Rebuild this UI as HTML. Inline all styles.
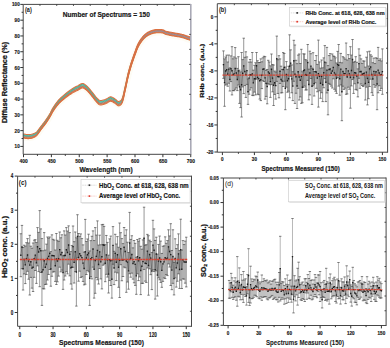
<!DOCTYPE html>
<html><head><meta charset="utf-8"><style>
html,body{margin:0;padding:0;background:#fff;}
body{width:390px;height:348px;overflow:hidden;}
svg{display:block;font-family:"Liberation Sans", sans-serif;}
</style></head><body>
<svg width="390" height="348" viewBox="0 0 390 348">
<rect width="390" height="348" fill="#fff"/>
<defs><linearGradient id="bg0" gradientUnits="userSpaceOnUse" x1="23" y1="0" x2="191" y2="0"><stop offset="0" stop-color="#dc7040"/><stop offset="0.56" stop-color="#dc7040"/><stop offset="0.66" stop-color="#dc7040"/><stop offset="1" stop-color="#dc7040"/></linearGradient><linearGradient id="bg1" gradientUnits="userSpaceOnUse" x1="23" y1="0" x2="191" y2="0"><stop offset="0" stop-color="#45b49c"/><stop offset="0.56" stop-color="#45b49c"/><stop offset="0.66" stop-color="#c77552"/><stop offset="1" stop-color="#c77552"/></linearGradient><linearGradient id="bg2" gradientUnits="userSpaceOnUse" x1="23" y1="0" x2="191" y2="0"><stop offset="0" stop-color="#48b59d"/><stop offset="0.56" stop-color="#48b59d"/><stop offset="0.66" stop-color="#918d98"/><stop offset="1" stop-color="#918d98"/></linearGradient><linearGradient id="bg3" gradientUnits="userSpaceOnUse" x1="23" y1="0" x2="191" y2="0"><stop offset="0" stop-color="#849c90"/><stop offset="0.56" stop-color="#849c90"/><stop offset="0.66" stop-color="#8f8d9a"/><stop offset="1" stop-color="#8f8d9a"/></linearGradient><linearGradient id="bg4" gradientUnits="userSpaceOnUse" x1="23" y1="0" x2="191" y2="0"><stop offset="0" stop-color="#a5806f"/><stop offset="0.56" stop-color="#a5806f"/><stop offset="0.66" stop-color="#958a97"/><stop offset="1" stop-color="#958a97"/></linearGradient><linearGradient id="bg5" gradientUnits="userSpaceOnUse" x1="23" y1="0" x2="191" y2="0"><stop offset="0" stop-color="#cf7048"/><stop offset="0.56" stop-color="#cf7048"/><stop offset="0.66" stop-color="#c97552"/><stop offset="1" stop-color="#c97552"/></linearGradient><linearGradient id="bg6" gradientUnits="userSpaceOnUse" x1="23" y1="0" x2="191" y2="0"><stop offset="0" stop-color="#dc6f3c"/><stop offset="0.56" stop-color="#dc6f3c"/><stop offset="0.66" stop-color="#dc6f3c"/><stop offset="1" stop-color="#dc6f3c"/></linearGradient><clipPath id="ca"><rect x="23.2" y="4.4" width="167.6" height="149.9"/></clipPath></defs>
<g clip-path="url(#ca)" fill="none" stroke-linejoin="round">
<path d="M22.5 137.5 C22.67 137.52 22.72 137.5 23.5 137.6 C24.28 137.7 26.02 138.03 27.2 138.1 C28.38 138.17 29.6 138.13 30.6 138 C31.6 137.87 32.18 137.77 33.2 137.3 C34.22 136.83 35.4 136.48 36.7 135.2 C38 133.92 39.43 131.65 41 129.6 C42.57 127.55 44.6 125.03 46.1 122.9 C47.6 120.77 48.82 118.8 50 116.8 C51.18 114.8 51.82 113.05 53.2 110.9 C54.58 108.75 56.58 105.88 58.3 103.9 C60.02 101.92 61.77 100.5 63.5 99 C65.23 97.5 66.97 96.15 68.7 94.9 C70.43 93.65 72.43 92.37 73.9 91.5 C75.37 90.63 76.1 90.4 77.5 89.7 C78.9 89 80.92 87.42 82.3 87.3 C83.68 87.18 84.65 88.17 85.8 89 C86.95 89.83 88.05 91.03 89.2 92.3 C90.35 93.57 91.55 95.17 92.7 96.6 C93.85 98.03 94.95 99.65 96.1 100.9 C97.25 102.15 98.45 103.6 99.6 104.1 C100.75 104.6 101.87 104.13 103 103.9 C104.13 103.67 105.12 103.25 106.4 102.7 C107.68 102.15 109.27 100.6 110.7 100.6 C112.13 100.6 113.68 101.93 115 102.7 C116.32 103.47 117.4 105.32 118.6 105.2 C119.8 105.08 121.12 104.45 122.2 102 C123.28 99.55 124.13 94.62 125.1 90.5 C126.07 86.38 127.02 81.3 128 77.3 C128.98 73.3 129.85 70.18 131 66.5 C132.15 62.82 133.68 58.52 134.9 55.2 C136.12 51.88 136.97 49.18 138.3 46.6 C139.63 44.02 141.37 41.52 142.9 39.7 C144.43 37.88 145.97 36.72 147.5 35.7 C149.03 34.68 150.57 34.1 152.1 33.6 C153.63 33.1 154.95 32.82 156.7 32.7 C158.45 32.58 160.98 32.6 162.6 32.9 C164.22 33.2 164.5 33.98 166.4 34.5 C168.3 35.02 171.47 35.52 174 36 C176.53 36.48 179.07 36.77 181.6 37.4 C184.13 38.03 187.47 39.28 189.2 39.8 C190.93 40.32 191.53 40.38 192 40.5" stroke="#f4f2cc" stroke-width="6" opacity="0.2"/>
<path d="M22.5 135.95 L22.54 135.95 L22.58 135.96 L22.62 135.96 L22.66 135.96 L22.71 135.96 L22.77 135.97 L22.84 135.98 L22.93 135.98 L23.04 136 L23.17 136.01 L23.32 136.03 L23.5 136.05 L23.71 136.08 L23.96 136.12 L24.24 136.16 L24.54 136.21 L24.87 136.26 L25.2 136.31 L25.54 136.36 L25.89 136.41 L26.23 136.46 L26.57 136.5 L26.89 136.53 L27.2 136.55 L27.5 136.57 L27.79 136.58 L28.09 136.58 L28.39 136.58 L28.68 136.58 L28.97 136.58 L29.26 136.57 L29.54 136.55 L29.81 136.53 L30.08 136.51 L30.35 136.48 L30.6 136.45 L30.84 136.42 L31.07 136.39 L31.29 136.35 L31.49 136.32 L31.69 136.27 L31.89 136.23 L32.09 136.17 L32.3 136.11 L32.51 136.04 L32.72 135.96 L32.95 135.86 L33.2 135.75 L33.46 135.64 L33.72 135.52 L33.99 135.41 L34.27 135.29 L34.55 135.15 L34.84 135.01 L35.14 134.85 L35.44 134.66 L35.75 134.46 L36.06 134.22 L36.38 133.96 L36.7 133.66 L37.03 133.31 L37.36 132.94 L37.7 132.53 L38.04 132.09 L38.39 131.63 L38.75 131.14 L39.11 130.65 L39.48 130.14 L39.85 129.62 L40.23 129.1 L40.61 128.58 L41 128.06 L41.4 127.54 L41.82 127 L42.25 126.45 L42.69 125.89 L43.13 125.32 L43.58 124.74 L44.02 124.16 L44.46 123.59 L44.89 123.02 L45.31 122.45 L45.71 121.9 L46.1 121.36 L46.47 120.83 L46.83 120.3 L47.18 119.79 L47.51 119.27 L47.85 118.76 L48.17 118.26 L48.49 117.75 L48.8 117.25 L49.1 116.75 L49.4 116.26 L49.7 115.76 L50 115.26 L50.29 114.76 L50.55 114.27 L50.8 113.79 L51.05 113.32 L51.29 112.84 L51.52 112.36 L51.77 111.88 L52.02 111.4 L52.28 110.9 L52.56 110.4 L52.87 109.89 L53.2 109.36 L53.56 108.8 L53.94 108.23 L54.34 107.63 L54.76 107.03 L55.19 106.41 L55.62 105.79 L56.07 105.18 L56.52 104.57 L56.97 103.98 L57.42 103.41 L57.87 102.87 L58.3 102.35 L58.73 101.87 L59.16 101.41 L59.59 100.96 L60.03 100.53 L60.46 100.12 L60.89 99.72 L61.33 99.33 L61.76 98.95 L62.2 98.57 L62.63 98.2 L63.07 97.83 L63.5 97.45 L63.93 97.08 L64.37 96.71 L64.8 96.35 L65.23 96 L65.67 95.65 L66.1 95.31 L66.53 94.97 L66.97 94.64 L67.4 94.31 L67.83 93.98 L68.27 93.66 L68.7 93.35 L69.14 93.04 L69.59 92.72 L70.04 92.41 L70.49 92.1 L70.95 91.8 L71.4 91.5 L71.85 91.22 L72.29 90.94 L72.71 90.67 L73.13 90.41 L73.52 90.17 L73.9 89.95 L74.25 89.74 L74.58 89.56 L74.88 89.4 L75.17 89.25 L75.45 89.11 L75.72 88.98 L76 88.86 L76.27 88.73 L76.55 88.6 L76.85 88.46 L77.16 88.31 L77.5 88.15 L77.86 87.95 L78.25 87.73 L78.65 87.49 L79.06 87.24 L79.48 86.98 L79.91 86.73 L80.33 86.49 L80.75 86.26 L81.16 86.07 L81.56 85.92 L81.94 85.8 L82.3 85.75 L82.64 85.74 L82.96 85.77 L83.27 85.85 L83.57 85.95 L83.86 86.08 L84.14 86.24 L84.41 86.42 L84.69 86.61 L84.96 86.81 L85.24 87.02 L85.52 87.24 L85.8 87.45 L86.09 87.66 L86.37 87.89 L86.65 88.14 L86.94 88.39 L87.22 88.66 L87.5 88.93 L87.78 89.22 L88.06 89.51 L88.35 89.81 L88.63 90.12 L88.91 90.43 L89.2 90.75 L89.49 91.07 L89.78 91.41 L90.07 91.75 L90.36 92.11 L90.66 92.47 L90.95 92.83 L91.24 93.2 L91.54 93.58 L91.83 93.95 L92.12 94.32 L92.41 94.69 L92.7 95.05 L92.99 95.41 L93.27 95.78 L93.55 96.15 L93.84 96.52 L94.12 96.89 L94.4 97.27 L94.68 97.63 L94.96 97.99 L95.25 98.35 L95.53 98.69 L95.81 99.03 L96.1 99.35 L96.39 99.66 L96.68 99.98 L96.97 100.3 L97.26 100.62 L97.56 100.93 L97.85 101.23 L98.14 101.51 L98.44 101.77 L98.73 102.01 L99.02 102.22 L99.31 102.4 L99.6 102.55 L99.89 102.65 L100.17 102.72 L100.46 102.76 L100.74 102.77 L101.02 102.76 L101.31 102.72 L101.59 102.67 L101.87 102.61 L102.15 102.55 L102.43 102.48 L102.72 102.41 L103 102.35 L103.28 102.28 L103.56 102.22 L103.83 102.14 L104.1 102.05 L104.37 101.96 L104.64 101.87 L104.92 101.76 L105.2 101.65 L105.49 101.53 L105.78 101.41 L106.09 101.28 L106.4 101.15 L106.73 100.99 L107.06 100.8 L107.41 100.59 L107.77 100.36 L108.13 100.12 L108.49 99.89 L108.86 99.67 L109.23 99.47 L109.6 99.3 L109.97 99.16 L110.34 99.08 L110.7 99.05 L111.06 99.07 L111.42 99.15 L111.79 99.27 L112.16 99.42 L112.53 99.6 L112.89 99.81 L113.26 100.03 L113.62 100.26 L113.97 100.5 L114.32 100.73 L114.67 100.94 L115 101.15 L115.32 101.36 L115.64 101.61 L115.95 101.88 L116.25 102.16 L116.55 102.45 L116.84 102.73 L117.14 102.99 L117.43 103.22 L117.72 103.41 L118.01 103.56 L118.3 103.64 L118.6 103.65 L118.9 103.61 L119.21 103.54 L119.52 103.44 L119.83 103.31 L120.14 103.14 L120.44 102.92 L120.75 102.66 L121.05 102.34 L121.35 101.96 L121.64 101.53 L121.92 101.02 L122.2 100.45 L122.47 99.79 L122.72 99.03 L122.97 98.2 L123.22 97.29 L123.46 96.33 L123.69 95.32 L123.93 94.28 L124.16 93.21 L124.39 92.14 L124.62 91.06 L124.86 89.99 L125.1 88.95 L125.34 87.9 L125.58 86.82 L125.82 85.71 L126.06 84.59 L126.3 83.45 L126.54 82.31 L126.78 81.17 L127.03 80.04 L127.27 78.92 L127.51 77.83 L127.75 76.77 L128 75.75 L128.24 74.77 L128.48 73.82 L128.72 72.9 L128.96 71.99 L129.2 71.11 L129.44 70.23 L129.68 69.37 L129.93 68.5 L130.18 67.63 L130.45 66.76 L130.72 65.86 L131 64.95 L131.3 64.02 L131.6 63.07 L131.92 62.1 L132.25 61.13 L132.59 60.15 L132.93 59.17 L133.26 58.2 L133.6 57.24 L133.94 56.3 L134.27 55.39 L134.59 54.51 L134.9 53.66 L135.2 52.84 L135.48 52.05 L135.76 51.28 L136.03 50.53 L136.29 49.8 L136.56 49.08 L136.82 48.38 L137.1 47.7 L137.38 47.03 L137.67 46.36 L137.98 45.71 L138.3 45.06 L138.64 44.42 L139 43.78 L139.37 43.15 L139.74 42.53 L140.13 41.92 L140.53 41.32 L140.92 40.74 L141.32 40.18 L141.72 39.64 L142.12 39.12 L142.51 38.63 L142.9 38.16 L143.28 37.72 L143.67 37.3 L144.05 36.91 L144.43 36.54 L144.82 36.19 L145.2 35.86 L145.58 35.55 L145.97 35.25 L146.35 34.96 L146.73 34.68 L147.12 34.42 L147.5 34.16 L147.88 33.92 L148.27 33.69 L148.65 33.47 L149.03 33.28 L149.42 33.09 L149.8 32.92 L150.18 32.75 L150.57 32.6 L150.95 32.46 L151.33 32.32 L151.72 32.19 L152.1 32.06 L152.48 31.94 L152.85 31.83 L153.22 31.73 L153.59 31.63 L153.95 31.55 L154.32 31.47 L154.69 31.4 L155.07 31.34 L155.46 31.28 L155.86 31.23 L156.27 31.19 L156.7 31.16 L157.15 31.13 L157.63 31.11 L158.13 31.1 L158.65 31.09 L159.17 31.1 L159.7 31.1 L160.22 31.12 L160.74 31.15 L161.24 31.19 L161.72 31.23 L162.18 31.29 L162.6 31.36 L162.98 31.45 L163.31 31.55 L163.61 31.66 L163.88 31.79 L164.14 31.93 L164.39 32.08 L164.65 32.23 L164.93 32.38 L165.23 32.54 L165.57 32.68 L165.96 32.83 L166.4 32.96 L166.9 33.09 L167.45 33.22 L168.03 33.35 L168.65 33.47 L169.3 33.6 L169.96 33.72 L170.64 33.85 L171.33 33.97 L172.01 34.1 L172.69 34.22 L173.35 34.34 L174 34.46 L174.63 34.58 L175.27 34.69 L175.9 34.79 L176.53 34.9 L177.17 35 L177.8 35.1 L178.43 35.21 L179.07 35.32 L179.7 35.44 L180.33 35.57 L180.97 35.71 L181.6 35.86 L182.25 36.03 L182.92 36.22 L183.61 36.43 L184.31 36.65 L185.01 36.88 L185.7 37.1 L186.37 37.33 L187.02 37.55 L187.64 37.76 L188.21 37.95 L188.73 38.12 L189.2 38.26 L189.61 38.38 L189.98 38.48 L190.3 38.57 L190.59 38.65 L190.85 38.71 L191.07 38.76 L191.27 38.81 L191.45 38.84 L191.61 38.88 L191.75 38.9 L191.88 38.93 L192 38.96" stroke="url(#bg3)" stroke-width="1.05"/>
<path d="M22.5 135.26 L22.54 135.26 L22.58 135.26 L22.62 135.27 L22.66 135.27 L22.71 135.27 L22.77 135.28 L22.84 135.28 L22.93 135.29 L23.04 135.3 L23.17 135.32 L23.32 135.34 L23.5 135.36 L23.71 135.39 L23.96 135.43 L24.24 135.47 L24.54 135.52 L24.87 135.57 L25.2 135.63 L25.54 135.68 L25.89 135.73 L26.23 135.77 L26.57 135.81 L26.89 135.85 L27.2 135.87 L27.5 135.88 L27.79 135.9 L28.09 135.9 L28.39 135.91 L28.68 135.9 L28.97 135.9 L29.26 135.89 L29.54 135.88 L29.81 135.86 L30.08 135.84 L30.35 135.81 L30.6 135.78 L30.84 135.75 L31.07 135.71 L31.29 135.68 L31.49 135.64 L31.69 135.6 L31.89 135.56 L32.09 135.5 L32.3 135.44 L32.51 135.37 L32.72 135.29 L32.95 135.19 L33.2 135.09 L33.46 134.97 L33.72 134.86 L33.99 134.74 L34.27 134.62 L34.55 134.5 L34.84 134.36 L35.14 134.2 L35.44 134.02 L35.75 133.82 L36.06 133.59 L36.38 133.32 L36.7 133.03 L37.03 132.69 L37.36 132.32 L37.7 131.91 L38.04 131.48 L38.39 131.02 L38.75 130.54 L39.11 130.05 L39.48 129.54 L39.85 129.03 L40.23 128.51 L40.61 128 L41 127.49 L41.4 126.97 L41.82 126.44 L42.25 125.89 L42.69 125.32 L43.13 124.75 L43.58 124.17 L44.02 123.59 L44.46 123.02 L44.89 122.44 L45.31 121.88 L45.71 121.32 L46.1 120.78 L46.47 120.24 L46.83 119.72 L47.18 119.2 L47.51 118.68 L47.85 118.17 L48.17 117.67 L48.49 117.16 L48.8 116.66 L49.1 116.16 L49.4 115.66 L49.7 115.16 L50 114.66 L50.29 114.16 L50.55 113.67 L50.8 113.19 L51.05 112.71 L51.29 112.23 L51.52 111.75 L51.77 111.27 L52.02 110.78 L52.28 110.29 L52.56 109.79 L52.87 109.27 L53.2 108.74 L53.56 108.18 L53.94 107.61 L54.34 107.01 L54.76 106.4 L55.19 105.78 L55.62 105.16 L56.07 104.54 L56.52 103.94 L56.97 103.34 L57.42 102.77 L57.87 102.22 L58.3 101.71 L58.73 101.22 L59.16 100.76 L59.59 100.31 L60.03 99.88 L60.46 99.47 L60.89 99.06 L61.33 98.67 L61.76 98.29 L62.2 97.91 L62.63 97.53 L63.07 97.15 L63.5 96.78 L63.93 96.4 L64.37 96.03 L64.8 95.67 L65.23 95.31 L65.67 94.96 L66.1 94.61 L66.53 94.27 L66.97 93.94 L67.4 93.6 L67.83 93.28 L68.27 92.96 L68.7 92.64 L69.14 92.32 L69.59 92 L70.04 91.69 L70.49 91.38 L70.95 91.07 L71.4 90.77 L71.85 90.48 L72.29 90.2 L72.71 89.93 L73.13 89.67 L73.52 89.43 L73.9 89.2 L74.25 88.99 L74.58 88.81 L74.88 88.64 L75.17 88.49 L75.45 88.36 L75.72 88.23 L76 88.1 L76.27 87.98 L76.55 87.85 L76.85 87.71 L77.16 87.56 L77.5 87.39 L77.86 87.2 L78.25 86.98 L78.65 86.74 L79.06 86.48 L79.48 86.23 L79.91 85.97 L80.33 85.73 L80.75 85.51 L81.16 85.32 L81.56 85.16 L81.94 85.05 L82.3 84.99 L82.64 84.99 L82.96 85.02 L83.27 85.09 L83.57 85.2 L83.86 85.33 L84.14 85.49 L84.41 85.66 L84.69 85.86 L84.96 86.06 L85.24 86.27 L85.52 86.48 L85.8 86.69 L86.09 86.91 L86.37 87.14 L86.65 87.38 L86.94 87.64 L87.22 87.91 L87.5 88.18 L87.78 88.47 L88.06 88.76 L88.35 89.06 L88.63 89.37 L88.91 89.68 L89.2 90 L89.49 90.32 L89.78 90.66 L90.07 91 L90.36 91.36 L90.66 91.72 L90.95 92.08 L91.24 92.46 L91.54 92.83 L91.83 93.2 L92.12 93.57 L92.41 93.94 L92.7 94.3 L92.99 94.66 L93.27 95.03 L93.55 95.4 L93.84 95.77 L94.12 96.15 L94.4 96.52 L94.68 96.89 L94.96 97.25 L95.25 97.6 L95.53 97.95 L95.81 98.28 L96.1 98.6 L96.39 98.92 L96.68 99.24 L96.97 99.56 L97.26 99.87 L97.56 100.18 L97.85 100.48 L98.14 100.76 L98.44 101.03 L98.73 101.27 L99.02 101.48 L99.31 101.66 L99.6 101.8 L99.89 101.91 L100.17 101.98 L100.46 102.01 L100.74 102.02 L101.02 102.01 L101.31 101.98 L101.59 101.93 L101.87 101.87 L102.15 101.8 L102.43 101.73 L102.72 101.66 L103 101.6 L103.28 101.54 L103.56 101.47 L103.83 101.39 L104.1 101.31 L104.37 101.22 L104.64 101.12 L104.92 101.02 L105.2 100.91 L105.49 100.79 L105.78 100.67 L106.09 100.54 L106.4 100.4 L106.73 100.25 L107.06 100.06 L107.41 99.84 L107.77 99.62 L108.13 99.38 L108.49 99.15 L108.86 98.93 L109.23 98.73 L109.6 98.56 L109.97 98.42 L110.34 98.34 L110.7 98.31 L111.06 98.33 L111.42 98.41 L111.79 98.53 L112.16 98.68 L112.53 98.86 L112.89 99.07 L113.26 99.29 L113.62 99.52 L113.97 99.76 L114.32 99.99 L114.67 100.21 L115 100.41 L115.32 100.62 L115.64 100.87 L115.95 101.14 L116.25 101.42 L116.55 101.71 L116.84 101.99 L117.14 102.25 L117.43 102.48 L117.72 102.68 L118.01 102.82 L118.3 102.9 L118.6 102.91 L118.9 102.87 L119.21 102.8 L119.52 102.71 L119.83 102.57 L120.14 102.4 L120.44 102.19 L120.75 101.92 L121.05 101.6 L121.35 101.23 L121.64 100.79 L121.92 100.29 L122.2 99.71 L122.47 99.05 L122.72 98.29 L122.97 97.46 L123.22 96.56 L123.46 95.59 L123.69 94.59 L123.93 93.54 L124.16 92.48 L124.39 91.4 L124.62 90.32 L124.86 89.26 L125.1 88.21 L125.34 87.17 L125.58 86.09 L125.82 84.99 L126.06 83.87 L126.3 82.74 L126.54 81.6 L126.78 80.46 L127.03 79.34 L127.27 78.23 L127.51 77.14 L127.75 76.09 L128 75.07 L128.24 74.09 L128.48 73.14 L128.72 72.23 L128.96 71.33 L129.2 70.45 L129.44 69.58 L129.68 68.71 L129.93 67.85 L130.18 66.99 L130.45 66.12 L130.72 65.23 L131 64.33 L131.3 63.4 L131.6 62.45 L131.92 61.49 L132.25 60.52 L132.59 59.55 L132.93 58.57 L133.26 57.61 L133.6 56.65 L133.94 55.71 L134.27 54.8 L134.59 53.92 L134.9 53.07 L135.2 52.26 L135.48 51.46 L135.76 50.69 L136.03 49.95 L136.29 49.22 L136.56 48.5 L136.82 47.81 L137.1 47.12 L137.38 46.45 L137.67 45.79 L137.98 45.13 L138.3 44.49 L138.64 43.84 L139 43.21 L139.37 42.58 L139.74 41.96 L140.13 41.35 L140.53 40.76 L140.92 40.18 L141.32 39.62 L141.72 39.08 L142.12 38.56 L142.51 38.07 L142.9 37.61 L143.28 37.17 L143.67 36.75 L144.05 36.36 L144.43 35.99 L144.82 35.65 L145.2 35.32 L145.58 35 L145.97 34.7 L146.35 34.41 L146.73 34.14 L147.12 33.87 L147.5 33.62 L147.88 33.37 L148.27 33.14 L148.65 32.93 L149.03 32.73 L149.42 32.54 L149.8 32.37 L150.18 32.21 L150.57 32.06 L150.95 31.91 L151.33 31.77 L151.72 31.64 L152.1 31.52 L152.48 31.39 L152.85 31.28 L153.22 31.18 L153.59 31.09 L153.95 31 L154.32 30.92 L154.69 30.85 L155.07 30.79 L155.46 30.73 L155.86 30.69 L156.27 30.65 L156.7 30.61 L157.15 30.59 L157.63 30.57 L158.13 30.55 L158.65 30.55 L159.17 30.55 L159.7 30.56 L160.22 30.58 L160.74 30.6 L161.24 30.64 L161.72 30.69 L162.18 30.75 L162.6 30.81 L162.98 30.9 L163.31 31 L163.61 31.12 L163.88 31.25 L164.14 31.39 L164.39 31.53 L164.65 31.68 L164.93 31.84 L165.23 31.99 L165.57 32.14 L165.96 32.28 L166.4 32.41 L166.9 32.54 L167.45 32.67 L168.03 32.8 L168.65 32.93 L169.3 33.05 L169.96 33.18 L170.64 33.3 L171.33 33.43 L172.01 33.55 L172.69 33.67 L173.35 33.79 L174 33.91 L174.63 34.03 L175.27 34.14 L175.9 34.25 L176.53 34.35 L177.17 34.45 L177.8 34.56 L178.43 34.67 L179.07 34.78 L179.7 34.9 L180.33 35.02 L180.97 35.16 L181.6 35.31 L182.25 35.49 L182.92 35.68 L183.61 35.88 L184.31 36.1 L185.01 36.33 L185.7 36.56 L186.37 36.78 L187.02 37 L187.64 37.21 L188.21 37.4 L188.73 37.57 L189.2 37.71 L189.61 37.84 L189.98 37.94 L190.3 38.03 L190.59 38.1 L190.85 38.16 L191.07 38.21 L191.27 38.26 L191.45 38.3 L191.61 38.33 L191.75 38.36 L191.88 38.39 L192 38.41" stroke="url(#bg2)" stroke-width="1.05"/>
<path d="M22.5 136.64 L22.54 136.65 L22.58 136.65 L22.62 136.65 L22.66 136.65 L22.71 136.66 L22.77 136.66 L22.84 136.67 L22.93 136.68 L23.04 136.69 L23.17 136.7 L23.32 136.72 L23.5 136.74 L23.71 136.77 L23.96 136.81 L24.24 136.85 L24.54 136.9 L24.87 136.95 L25.2 137 L25.54 137.05 L25.89 137.1 L26.23 137.14 L26.57 137.18 L26.89 137.21 L27.2 137.23 L27.5 137.25 L27.79 137.26 L28.09 137.26 L28.39 137.26 L28.68 137.26 L28.97 137.25 L29.26 137.24 L29.54 137.23 L29.81 137.21 L30.08 137.18 L30.35 137.16 L30.6 137.13 L30.84 137.09 L31.07 137.06 L31.29 137.02 L31.49 136.99 L31.69 136.94 L31.89 136.9 L32.09 136.84 L32.3 136.78 L32.51 136.71 L32.72 136.63 L32.95 136.53 L33.2 136.42 L33.46 136.3 L33.72 136.19 L33.99 136.07 L34.27 135.95 L34.55 135.81 L34.84 135.66 L35.14 135.5 L35.44 135.31 L35.75 135.1 L36.06 134.86 L36.38 134.59 L36.7 134.28 L37.03 133.94 L37.36 133.56 L37.7 133.14 L38.04 132.7 L38.39 132.23 L38.75 131.75 L39.11 131.24 L39.48 130.73 L39.85 130.21 L40.23 129.68 L40.61 129.15 L41 128.63 L41.4 128.11 L41.82 127.56 L42.25 127.01 L42.69 126.45 L43.13 125.88 L43.58 125.31 L44.02 124.73 L44.46 124.16 L44.89 123.59 L45.31 123.03 L45.71 122.48 L46.1 121.94 L46.47 121.41 L46.83 120.89 L47.18 120.37 L47.51 119.86 L47.85 119.35 L48.17 118.85 L48.49 118.35 L48.8 117.85 L49.1 117.35 L49.4 116.85 L49.7 116.36 L50 115.86 L50.29 115.37 L50.55 114.88 L50.8 114.4 L51.05 113.92 L51.29 113.45 L51.52 112.97 L51.77 112.49 L52.02 112.01 L52.28 111.52 L52.56 111.02 L52.87 110.5 L53.2 109.97 L53.56 109.42 L53.94 108.85 L54.34 108.26 L54.76 107.65 L55.19 107.04 L55.62 106.42 L56.07 105.81 L56.52 105.21 L56.97 104.62 L57.42 104.05 L57.87 103.51 L58.3 103 L58.73 102.52 L59.16 102.06 L59.59 101.61 L60.03 101.19 L60.46 100.78 L60.89 100.38 L61.33 99.99 L61.76 99.61 L62.2 99.24 L62.63 98.87 L63.07 98.5 L63.5 98.13 L63.93 97.76 L64.37 97.4 L64.8 97.04 L65.23 96.69 L65.67 96.34 L66.1 96 L66.53 95.67 L66.97 95.33 L67.4 95.01 L67.83 94.69 L68.27 94.37 L68.7 94.06 L69.14 93.75 L69.59 93.44 L70.04 93.13 L70.49 92.83 L70.95 92.53 L71.4 92.23 L71.85 91.95 L72.29 91.67 L72.71 91.41 L73.13 91.16 L73.52 90.92 L73.9 90.69 L74.25 90.49 L74.58 90.31 L74.88 90.15 L75.17 90.01 L75.45 89.87 L75.72 89.74 L76 89.61 L76.27 89.49 L76.55 89.36 L76.85 89.22 L77.16 89.07 L77.5 88.9 L77.86 88.71 L78.25 88.49 L78.65 88.25 L79.06 87.99 L79.48 87.74 L79.91 87.48 L80.33 87.24 L80.75 87.02 L81.16 86.83 L81.56 86.67 L81.94 86.56 L82.3 86.5 L82.64 86.49 L82.96 86.53 L83.27 86.6 L83.57 86.7 L83.86 86.84 L84.14 86.99 L84.41 87.17 L84.69 87.36 L84.96 87.56 L85.24 87.77 L85.52 87.99 L85.8 88.2 L86.09 88.41 L86.37 88.64 L86.65 88.89 L86.94 89.14 L87.22 89.41 L87.5 89.68 L87.78 89.97 L88.06 90.26 L88.35 90.56 L88.63 90.87 L88.91 91.18 L89.2 91.5 L89.49 91.82 L89.78 92.16 L90.07 92.5 L90.36 92.86 L90.66 93.22 L90.95 93.58 L91.24 93.95 L91.54 94.33 L91.83 94.7 L92.12 95.07 L92.41 95.43 L92.7 95.8 L92.99 96.16 L93.27 96.52 L93.55 96.9 L93.84 97.27 L94.12 97.64 L94.4 98.01 L94.68 98.38 L94.96 98.74 L95.25 99.1 L95.53 99.44 L95.81 99.77 L96.1 100.09 L96.39 100.41 L96.68 100.73 L96.97 101.05 L97.26 101.37 L97.56 101.68 L97.85 101.97 L98.14 102.26 L98.44 102.52 L98.73 102.76 L99.02 102.97 L99.31 103.15 L99.6 103.29 L99.89 103.4 L100.17 103.47 L100.46 103.5 L100.74 103.51 L101.02 103.5 L101.31 103.47 L101.59 103.42 L101.87 103.36 L102.15 103.29 L102.43 103.22 L102.72 103.15 L103 103.09 L103.28 103.03 L103.56 102.96 L103.83 102.88 L104.1 102.8 L104.37 102.71 L104.64 102.61 L104.92 102.5 L105.2 102.39 L105.49 102.28 L105.78 102.15 L106.09 102.02 L106.4 101.89 L106.73 101.73 L107.06 101.54 L107.41 101.33 L107.77 101.1 L108.13 100.87 L108.49 100.63 L108.86 100.41 L109.23 100.21 L109.6 100.04 L109.97 99.91 L110.34 99.82 L110.7 99.79 L111.06 99.81 L111.42 99.89 L111.79 100.01 L112.16 100.16 L112.53 100.34 L112.89 100.55 L113.26 100.77 L113.62 101 L113.97 101.24 L114.32 101.46 L114.67 101.68 L115 101.89 L115.32 102.1 L115.64 102.35 L115.95 102.62 L116.25 102.9 L116.55 103.19 L116.84 103.47 L117.14 103.73 L117.43 103.96 L117.72 104.15 L118.01 104.29 L118.3 104.38 L118.6 104.38 L118.9 104.34 L119.21 104.28 L119.52 104.18 L119.83 104.05 L120.14 103.88 L120.44 103.66 L120.75 103.39 L121.05 103.08 L121.35 102.7 L121.64 102.26 L121.92 101.76 L122.2 101.18 L122.47 100.52 L122.72 99.77 L122.97 98.93 L123.22 98.03 L123.46 97.07 L123.69 96.06 L123.93 95.02 L124.16 93.95 L124.39 92.87 L124.62 91.79 L124.86 90.73 L125.1 89.68 L125.34 88.63 L125.58 87.54 L125.82 86.43 L126.06 85.3 L126.3 84.16 L126.54 83.01 L126.78 81.87 L127.03 80.73 L127.27 79.62 L127.51 78.52 L127.75 77.46 L128 76.43 L128.24 75.45 L128.48 74.49 L128.72 73.56 L128.96 72.66 L129.2 71.77 L129.44 70.89 L129.68 70.02 L129.93 69.15 L130.18 68.28 L130.45 67.4 L130.72 66.5 L131 65.58 L131.3 64.65 L131.6 63.69 L131.92 62.72 L132.25 61.74 L132.59 60.75 L132.93 59.77 L133.26 58.79 L133.6 57.84 L133.94 56.9 L134.27 55.98 L134.59 55.1 L134.9 54.25 L135.2 53.43 L135.48 52.63 L135.76 51.86 L136.03 51.11 L136.29 50.38 L136.56 49.66 L136.82 48.96 L137.1 48.28 L137.38 47.6 L137.67 46.94 L137.98 46.28 L138.3 45.63 L138.64 44.99 L139 44.35 L139.37 43.72 L139.74 43.09 L140.13 42.48 L140.53 41.89 L140.92 41.31 L141.32 40.74 L141.72 40.2 L142.12 39.68 L142.51 39.18 L142.9 38.71 L143.28 38.27 L143.67 37.86 L144.05 37.46 L144.43 37.09 L144.82 36.74 L145.2 36.41 L145.58 36.09 L145.97 35.79 L146.35 35.51 L146.73 35.23 L147.12 34.96 L147.5 34.71 L147.88 34.46 L148.27 34.23 L148.65 34.02 L149.03 33.82 L149.42 33.64 L149.8 33.46 L150.18 33.3 L150.57 33.15 L150.95 33 L151.33 32.87 L151.72 32.73 L152.1 32.61 L152.48 32.49 L152.85 32.37 L153.22 32.27 L153.59 32.18 L153.95 32.09 L154.32 32.01 L154.69 31.94 L155.07 31.88 L155.46 31.83 L155.86 31.78 L156.27 31.74 L156.7 31.71 L157.15 31.68 L157.63 31.66 L158.13 31.65 L158.65 31.64 L159.17 31.64 L159.7 31.65 L160.22 31.67 L160.74 31.7 L161.24 31.73 L161.72 31.78 L162.18 31.84 L162.6 31.91 L162.98 31.99 L163.31 32.09 L163.61 32.21 L163.88 32.34 L164.14 32.48 L164.39 32.63 L164.65 32.78 L164.93 32.93 L165.23 33.08 L165.57 33.23 L165.96 33.37 L166.4 33.51 L166.9 33.64 L167.45 33.76 L168.03 33.89 L168.65 34.02 L169.3 34.14 L169.96 34.27 L170.64 34.39 L171.33 34.52 L172.01 34.64 L172.69 34.76 L173.35 34.89 L174 35.01 L174.63 35.12 L175.27 35.23 L175.9 35.34 L176.53 35.44 L177.17 35.55 L177.8 35.65 L178.43 35.76 L179.07 35.87 L179.7 35.99 L180.33 36.12 L180.97 36.26 L181.6 36.41 L182.25 36.58 L182.92 36.77 L183.61 36.98 L184.31 37.2 L185.01 37.42 L185.7 37.65 L186.37 37.88 L187.02 38.1 L187.64 38.3 L188.21 38.49 L188.73 38.66 L189.2 38.81 L189.61 38.93 L189.98 39.03 L190.3 39.12 L190.59 39.19 L190.85 39.25 L191.07 39.31 L191.27 39.35 L191.45 39.39 L191.61 39.42 L191.75 39.45 L191.88 39.48 L192 39.51" stroke="url(#bg4)" stroke-width="1.05"/>
<path d="M22.5 134.56 L22.54 134.57 L22.58 134.57 L22.62 134.57 L22.66 134.57 L22.71 134.58 L22.77 134.58 L22.84 134.59 L22.93 134.6 L23.04 134.61 L23.17 134.63 L23.32 134.64 L23.5 134.67 L23.71 134.7 L23.96 134.74 L24.24 134.78 L24.54 134.83 L24.87 134.89 L25.2 134.94 L25.54 134.99 L25.89 135.04 L26.23 135.09 L26.57 135.13 L26.89 135.16 L27.2 135.19 L27.5 135.2 L27.79 135.22 L28.09 135.22 L28.39 135.23 L28.68 135.23 L28.97 135.22 L29.26 135.21 L29.54 135.2 L29.81 135.18 L30.08 135.16 L30.35 135.13 L30.6 135.1 L30.84 135.07 L31.07 135.04 L31.29 135.01 L31.49 134.97 L31.69 134.93 L31.89 134.89 L32.09 134.83 L32.3 134.77 L32.51 134.7 L32.72 134.62 L32.95 134.53 L33.2 134.42 L33.46 134.3 L33.72 134.19 L33.99 134.08 L34.27 133.96 L34.55 133.84 L34.84 133.7 L35.14 133.55 L35.44 133.37 L35.75 133.17 L36.06 132.95 L36.38 132.69 L36.7 132.4 L37.03 132.06 L37.36 131.7 L37.7 131.29 L38.04 130.87 L38.39 130.41 L38.75 129.94 L39.11 129.45 L39.48 128.95 L39.85 128.44 L40.23 127.93 L40.61 127.42 L41 126.91 L41.4 126.4 L41.82 125.88 L42.25 125.33 L42.69 124.76 L43.13 124.18 L43.58 123.6 L44.02 123.02 L44.46 122.44 L44.89 121.87 L45.31 121.3 L45.71 120.74 L46.1 120.2 L46.47 119.66 L46.83 119.13 L47.18 118.61 L47.51 118.09 L47.85 117.58 L48.17 117.07 L48.49 116.57 L48.8 116.06 L49.1 115.56 L49.4 115.06 L49.7 114.56 L50 114.05 L50.29 113.55 L50.55 113.06 L50.8 112.58 L51.05 112.1 L51.29 111.62 L51.52 111.14 L51.77 110.66 L52.02 110.17 L52.28 109.68 L52.56 109.17 L52.87 108.65 L53.2 108.12 L53.56 107.56 L53.94 106.98 L54.34 106.38 L54.76 105.77 L55.19 105.15 L55.62 104.53 L56.07 103.91 L56.52 103.3 L56.97 102.71 L57.42 102.13 L57.87 101.58 L58.3 101.06 L58.73 100.57 L59.16 100.11 L59.59 99.66 L60.03 99.23 L60.46 98.81 L60.89 98.4 L61.33 98.01 L61.76 97.62 L62.2 97.24 L62.63 96.86 L63.07 96.48 L63.5 96.1 L63.93 95.72 L64.37 95.35 L64.8 94.98 L65.23 94.62 L65.67 94.27 L66.1 93.92 L66.53 93.57 L66.97 93.24 L67.4 92.9 L67.83 92.57 L68.27 92.25 L68.7 91.93 L69.14 91.61 L69.59 91.29 L70.04 90.97 L70.49 90.65 L70.95 90.35 L71.4 90.04 L71.85 89.75 L72.29 89.46 L72.71 89.19 L73.13 88.93 L73.52 88.68 L73.9 88.45 L74.25 88.24 L74.58 88.05 L74.88 87.89 L75.17 87.74 L75.45 87.6 L75.72 87.47 L76 87.35 L76.27 87.22 L76.55 87.09 L76.85 86.95 L77.16 86.8 L77.5 86.64 L77.86 86.44 L78.25 86.22 L78.65 85.98 L79.06 85.73 L79.48 85.47 L79.91 85.22 L80.33 84.98 L80.75 84.76 L81.16 84.57 L81.56 84.41 L81.94 84.3 L82.3 84.24 L82.64 84.23 L82.96 84.27 L83.27 84.34 L83.57 84.45 L83.86 84.58 L84.14 84.74 L84.41 84.91 L84.69 85.11 L84.96 85.31 L85.24 85.52 L85.52 85.73 L85.8 85.94 L86.09 86.16 L86.37 86.39 L86.65 86.63 L86.94 86.89 L87.22 87.16 L87.5 87.43 L87.78 87.72 L88.06 88.01 L88.35 88.31 L88.63 88.62 L88.91 88.93 L89.2 89.25 L89.49 89.57 L89.78 89.91 L90.07 90.25 L90.36 90.61 L90.66 90.97 L90.95 91.34 L91.24 91.71 L91.54 92.08 L91.83 92.45 L92.12 92.82 L92.41 93.19 L92.7 93.55 L92.99 93.91 L93.27 94.28 L93.55 94.65 L93.84 95.02 L94.12 95.4 L94.4 95.77 L94.68 96.14 L94.96 96.5 L95.25 96.85 L95.53 97.2 L95.81 97.53 L96.1 97.85 L96.39 98.17 L96.68 98.49 L96.97 98.81 L97.26 99.13 L97.56 99.44 L97.85 99.74 L98.14 100.02 L98.44 100.28 L98.73 100.52 L99.02 100.73 L99.31 100.91 L99.6 101.06 L99.89 101.16 L100.17 101.23 L100.46 101.27 L100.74 101.28 L101.02 101.26 L101.31 101.23 L101.59 101.18 L101.87 101.12 L102.15 101.06 L102.43 100.99 L102.72 100.92 L103 100.86 L103.28 100.8 L103.56 100.73 L103.83 100.65 L104.1 100.57 L104.37 100.48 L104.64 100.38 L104.92 100.27 L105.2 100.16 L105.49 100.05 L105.78 99.92 L106.09 99.8 L106.4 99.66 L106.73 99.5 L107.06 99.32 L107.41 99.1 L107.77 98.87 L108.13 98.64 L108.49 98.41 L108.86 98.19 L109.23 97.99 L109.6 97.81 L109.97 97.68 L110.34 97.6 L110.7 97.57 L111.06 97.59 L111.42 97.67 L111.79 97.79 L112.16 97.94 L112.53 98.12 L112.89 98.33 L113.26 98.55 L113.62 98.78 L113.97 99.02 L114.32 99.25 L114.67 99.47 L115 99.67 L115.32 99.88 L115.64 100.13 L115.95 100.4 L116.25 100.68 L116.55 100.97 L116.84 101.25 L117.14 101.51 L117.43 101.74 L117.72 101.94 L118.01 102.08 L118.3 102.16 L118.6 102.17 L118.9 102.13 L119.21 102.07 L119.52 101.97 L119.83 101.84 L120.14 101.66 L120.44 101.45 L120.75 101.18 L121.05 100.87 L121.35 100.49 L121.64 100.05 L121.92 99.55 L122.2 98.98 L122.47 98.31 L122.72 97.56 L122.97 96.72 L123.22 95.82 L123.46 94.86 L123.69 93.85 L123.93 92.81 L124.16 91.74 L124.39 90.67 L124.62 89.59 L124.86 88.52 L125.1 87.48 L125.34 86.44 L125.58 85.37 L125.82 84.27 L126.06 83.15 L126.3 82.02 L126.54 80.89 L126.78 79.76 L127.03 78.64 L127.27 77.53 L127.51 76.45 L127.75 75.4 L128 74.39 L128.24 73.41 L128.48 72.47 L128.72 71.56 L128.96 70.66 L129.2 69.78 L129.44 68.92 L129.68 68.06 L129.93 67.2 L130.18 66.34 L130.45 65.48 L130.72 64.59 L131 63.7 L131.3 62.77 L131.6 61.83 L131.92 60.88 L132.25 59.91 L132.59 58.94 L132.93 57.98 L133.26 57.01 L133.6 56.06 L133.94 55.12 L134.27 54.21 L134.59 53.33 L134.9 52.48 L135.2 51.67 L135.48 50.88 L135.76 50.11 L136.03 49.36 L136.29 48.63 L136.56 47.92 L136.82 47.23 L137.1 46.54 L137.38 45.87 L137.67 45.21 L137.98 44.56 L138.3 43.91 L138.64 43.27 L139 42.64 L139.37 42.01 L139.74 41.39 L140.13 40.79 L140.53 40.19 L140.92 39.62 L141.32 39.06 L141.72 38.52 L142.12 38.01 L142.51 37.52 L142.9 37.05 L143.28 36.61 L143.67 36.2 L144.05 35.81 L144.43 35.45 L144.82 35.1 L145.2 34.77 L145.58 34.45 L145.97 34.15 L146.35 33.87 L146.73 33.59 L147.12 33.33 L147.5 33.07 L147.88 32.82 L148.27 32.6 L148.65 32.38 L149.03 32.18 L149.42 32 L149.8 31.83 L150.18 31.66 L150.57 31.51 L150.95 31.37 L151.33 31.23 L151.72 31.1 L152.1 30.97 L152.48 30.85 L152.85 30.74 L153.22 30.63 L153.59 30.54 L153.95 30.45 L154.32 30.38 L154.69 30.31 L155.07 30.24 L155.46 30.19 L155.86 30.14 L156.27 30.1 L156.7 30.07 L157.15 30.04 L157.63 30.02 L158.13 30.01 L158.65 30 L159.17 30 L159.7 30.01 L160.22 30.03 L160.74 30.06 L161.24 30.09 L161.72 30.14 L162.18 30.2 L162.6 30.27 L162.98 30.35 L163.31 30.46 L163.61 30.57 L163.88 30.7 L164.14 30.84 L164.39 30.99 L164.65 31.14 L164.93 31.29 L165.23 31.44 L165.57 31.59 L165.96 31.73 L166.4 31.87 L166.9 32 L167.45 32.13 L168.03 32.25 L168.65 32.38 L169.3 32.51 L169.96 32.63 L170.64 32.76 L171.33 32.88 L172.01 33 L172.69 33.13 L173.35 33.25 L174 33.37 L174.63 33.49 L175.27 33.6 L175.9 33.7 L176.53 33.81 L177.17 33.91 L177.8 34.01 L178.43 34.12 L179.07 34.23 L179.7 34.35 L180.33 34.48 L180.97 34.62 L181.6 34.77 L182.25 34.94 L182.92 35.13 L183.61 35.34 L184.31 35.56 L185.01 35.78 L185.7 36.01 L186.37 36.24 L187.02 36.46 L187.64 36.67 L188.21 36.86 L188.73 37.03 L189.2 37.17 L189.61 37.29 L189.98 37.39 L190.3 37.48 L190.59 37.55 L190.85 37.62 L191.07 37.67 L191.27 37.71 L191.45 37.75 L191.61 37.78 L191.75 37.81 L191.88 37.84 L192 37.87" stroke="url(#bg1)" stroke-width="1.05"/>
<path d="M22.5 137.34 L22.54 137.34 L22.58 137.34 L22.62 137.35 L22.66 137.35 L22.71 137.35 L22.77 137.36 L22.84 137.36 L22.93 137.37 L23.04 137.38 L23.17 137.39 L23.32 137.41 L23.5 137.43 L23.71 137.46 L23.96 137.5 L24.24 137.54 L24.54 137.59 L24.87 137.64 L25.2 137.69 L25.54 137.74 L25.89 137.78 L26.23 137.83 L26.57 137.87 L26.89 137.89 L27.2 137.92 L27.5 137.93 L27.79 137.94 L28.09 137.94 L28.39 137.94 L28.68 137.94 L28.97 137.93 L29.26 137.92 L29.54 137.9 L29.81 137.88 L30.08 137.86 L30.35 137.83 L30.6 137.8 L30.84 137.76 L31.07 137.73 L31.29 137.7 L31.49 137.66 L31.69 137.62 L31.89 137.57 L32.09 137.51 L32.3 137.45 L32.51 137.38 L32.72 137.29 L32.95 137.2 L33.2 137.09 L33.46 136.97 L33.72 136.86 L33.99 136.74 L34.27 136.61 L34.55 136.47 L34.84 136.32 L35.14 136.15 L35.44 135.96 L35.75 135.74 L36.06 135.5 L36.38 135.22 L36.7 134.91 L37.03 134.57 L37.36 134.18 L37.7 133.76 L38.04 133.31 L38.39 132.84 L38.75 132.35 L39.11 131.84 L39.48 131.32 L39.85 130.79 L40.23 130.26 L40.61 129.73 L41 129.21 L41.4 128.67 L41.82 128.12 L42.25 127.57 L42.69 127.01 L43.13 126.45 L43.58 125.88 L44.02 125.31 L44.46 124.73 L44.89 124.17 L45.31 123.61 L45.71 123.06 L46.1 122.52 L46.47 122 L46.83 121.48 L47.18 120.96 L47.51 120.45 L47.85 119.94 L48.17 119.44 L48.49 118.94 L48.8 118.45 L49.1 117.95 L49.4 117.45 L49.7 116.96 L50 116.46 L50.29 115.97 L50.55 115.48 L50.8 115.01 L51.05 114.53 L51.29 114.06 L51.52 113.58 L51.77 113.11 L52.02 112.62 L52.28 112.13 L52.56 111.63 L52.87 111.12 L53.2 110.59 L53.56 110.05 L53.94 109.47 L54.34 108.88 L54.76 108.28 L55.19 107.67 L55.62 107.06 L56.07 106.45 L56.52 105.85 L56.97 105.26 L57.42 104.69 L57.87 104.15 L58.3 103.65 L58.73 103.16 L59.16 102.71 L59.59 102.27 L60.03 101.84 L60.46 101.44 L60.89 101.04 L61.33 100.65 L61.76 100.28 L62.2 99.9 L62.63 99.54 L63.07 99.17 L63.5 98.8 L63.93 98.44 L64.37 98.08 L64.8 97.72 L65.23 97.37 L65.67 97.03 L66.1 96.69 L66.53 96.36 L66.97 96.03 L67.4 95.71 L67.83 95.39 L68.27 95.08 L68.7 94.77 L69.14 94.47 L69.59 94.16 L70.04 93.85 L70.49 93.55 L70.95 93.26 L71.4 92.97 L71.85 92.68 L72.29 92.41 L72.71 92.15 L73.13 91.9 L73.52 91.66 L73.9 91.44 L74.25 91.24 L74.58 91.07 L74.88 90.91 L75.17 90.76 L75.45 90.62 L75.72 90.49 L76 90.37 L76.27 90.24 L76.55 90.11 L76.85 89.97 L77.16 89.82 L77.5 89.66 L77.86 89.46 L78.25 89.24 L78.65 89 L79.06 88.75 L79.48 88.49 L79.91 88.24 L80.33 87.99 L80.75 87.77 L81.16 87.58 L81.56 87.42 L81.94 87.31 L82.3 87.25 L82.64 87.24 L82.96 87.28 L83.27 87.35 L83.57 87.45 L83.86 87.59 L84.14 87.74 L84.41 87.92 L84.69 88.11 L84.96 88.32 L85.24 88.53 L85.52 88.74 L85.8 88.95 L86.09 89.16 L86.37 89.39 L86.65 89.64 L86.94 89.89 L87.22 90.16 L87.5 90.44 L87.78 90.72 L88.06 91.01 L88.35 91.31 L88.63 91.62 L88.91 91.93 L89.2 92.25 L89.49 92.57 L89.78 92.9 L90.07 93.25 L90.36 93.6 L90.66 93.97 L90.95 94.33 L91.24 94.7 L91.54 95.07 L91.83 95.45 L92.12 95.82 L92.41 96.18 L92.7 96.54 L92.99 96.91 L93.27 97.27 L93.55 97.64 L93.84 98.02 L94.12 98.39 L94.4 98.76 L94.68 99.13 L94.96 99.49 L95.25 99.84 L95.53 100.19 L95.81 100.52 L96.1 100.84 L96.39 101.16 L96.68 101.48 L96.97 101.8 L97.26 102.11 L97.56 102.42 L97.85 102.72 L98.14 103 L98.44 103.26 L98.73 103.5 L99.02 103.71 L99.31 103.89 L99.6 104.04 L99.89 104.14 L100.17 104.21 L100.46 104.25 L100.74 104.26 L101.02 104.25 L101.31 104.21 L101.59 104.16 L101.87 104.1 L102.15 104.04 L102.43 103.97 L102.72 103.9 L103 103.84 L103.28 103.77 L103.56 103.7 L103.83 103.63 L104.1 103.54 L104.37 103.45 L104.64 103.35 L104.92 103.25 L105.2 103.14 L105.49 103.02 L105.78 102.9 L106.09 102.77 L106.4 102.63 L106.73 102.48 L107.06 102.29 L107.41 102.07 L107.77 101.84 L108.13 101.61 L108.49 101.37 L108.86 101.15 L109.23 100.95 L109.6 100.78 L109.97 100.65 L110.34 100.56 L110.7 100.53 L111.06 100.56 L111.42 100.63 L111.79 100.75 L112.16 100.9 L112.53 101.08 L112.89 101.29 L113.26 101.51 L113.62 101.74 L113.97 101.97 L114.32 102.2 L114.67 102.42 L115 102.63 L115.32 102.84 L115.64 103.08 L115.95 103.36 L116.25 103.64 L116.55 103.93 L116.84 104.21 L117.14 104.47 L117.43 104.7 L117.72 104.89 L118.01 105.03 L118.3 105.11 L118.6 105.12 L118.9 105.08 L119.21 105.01 L119.52 104.92 L119.83 104.78 L120.14 104.61 L120.44 104.4 L120.75 104.13 L121.05 103.81 L121.35 103.44 L121.64 103 L121.92 102.5 L122.2 101.92 L122.47 101.26 L122.72 100.5 L122.97 99.67 L123.22 98.76 L123.46 97.8 L123.69 96.79 L123.93 95.75 L124.16 94.68 L124.39 93.61 L124.62 92.53 L124.86 91.46 L125.1 90.41 L125.34 89.36 L125.58 88.27 L125.82 87.15 L126.06 86.02 L126.3 84.87 L126.54 83.72 L126.78 82.57 L127.03 81.43 L127.27 80.31 L127.51 79.21 L127.75 78.15 L128 77.12 L128.24 76.13 L128.48 75.17 L128.72 74.23 L128.96 73.32 L129.2 72.43 L129.44 71.55 L129.68 70.67 L129.93 69.8 L130.18 68.92 L130.45 68.03 L130.72 67.13 L131 66.22 L131.3 65.27 L131.6 64.31 L131.92 63.33 L132.25 62.34 L132.59 61.35 L132.93 60.36 L133.26 59.39 L133.6 58.43 L133.94 57.49 L134.27 56.57 L134.59 55.68 L134.9 54.83 L135.2 54.01 L135.48 53.22 L135.76 52.45 L136.03 51.69 L136.29 50.96 L136.56 50.24 L136.82 49.54 L137.1 48.86 L137.38 48.18 L137.67 47.51 L137.98 46.86 L138.3 46.21 L138.64 45.56 L139 44.92 L139.37 44.28 L139.74 43.66 L140.13 43.05 L140.53 42.45 L140.92 41.87 L141.32 41.3 L141.72 40.76 L142.12 40.24 L142.51 39.74 L142.9 39.27 L143.28 38.83 L143.67 38.41 L144.05 38.01 L144.43 37.64 L144.82 37.29 L145.2 36.95 L145.58 36.64 L145.97 36.34 L146.35 36.05 L146.73 35.78 L147.12 35.51 L147.5 35.25 L147.88 35.01 L148.27 34.78 L148.65 34.57 L149.03 34.37 L149.42 34.18 L149.8 34.01 L150.18 33.85 L150.57 33.69 L150.95 33.55 L151.33 33.41 L151.72 33.28 L152.1 33.15 L152.48 33.03 L152.85 32.92 L153.22 32.82 L153.59 32.72 L153.95 32.64 L154.32 32.56 L154.69 32.49 L155.07 32.43 L155.46 32.37 L155.86 32.33 L156.27 32.29 L156.7 32.25 L157.15 32.23 L157.63 32.21 L158.13 32.19 L158.65 32.19 L159.17 32.19 L159.7 32.2 L160.22 32.21 L160.74 32.24 L161.24 32.28 L161.72 32.33 L162.18 32.38 L162.6 32.45 L162.98 32.54 L163.31 32.64 L163.61 32.76 L163.88 32.89 L164.14 33.03 L164.39 33.17 L164.65 33.32 L164.93 33.48 L165.23 33.63 L165.57 33.78 L165.96 33.92 L166.4 34.05 L166.9 34.18 L167.45 34.31 L168.03 34.44 L168.65 34.56 L169.3 34.69 L169.96 34.82 L170.64 34.94 L171.33 35.06 L172.01 35.19 L172.69 35.31 L173.35 35.43 L174 35.55 L174.63 35.67 L175.27 35.78 L175.9 35.89 L176.53 35.99 L177.17 36.09 L177.8 36.2 L178.43 36.3 L179.07 36.42 L179.7 36.54 L180.33 36.66 L180.97 36.8 L181.6 36.95 L182.25 37.12 L182.92 37.31 L183.61 37.52 L184.31 37.74 L185.01 37.97 L185.7 38.2 L186.37 38.42 L187.02 38.64 L187.64 38.85 L188.21 39.04 L188.73 39.21 L189.2 39.35 L189.61 39.47 L189.98 39.58 L190.3 39.66 L190.59 39.74 L190.85 39.8 L191.07 39.85 L191.27 39.9 L191.45 39.93 L191.61 39.97 L191.75 40 L191.88 40.02 L192 40.05" stroke="url(#bg5)" stroke-width="1.05"/>
<path d="M22.5 133.87 L22.54 133.87 L22.58 133.88 L22.62 133.88 L22.66 133.88 L22.71 133.89 L22.77 133.89 L22.84 133.9 L22.93 133.91 L23.04 133.92 L23.17 133.93 L23.32 133.95 L23.5 133.98 L23.71 134.01 L23.96 134.05 L24.24 134.09 L24.54 134.14 L24.87 134.2 L25.2 134.25 L25.54 134.31 L25.89 134.36 L26.23 134.41 L26.57 134.45 L26.89 134.48 L27.2 134.51 L27.5 134.52 L27.79 134.53 L28.09 134.54 L28.39 134.55 L28.68 134.55 L28.97 134.54 L29.26 134.54 L29.54 134.52 L29.81 134.51 L30.08 134.49 L30.35 134.46 L30.6 134.43 L30.84 134.4 L31.07 134.37 L31.29 134.34 L31.49 134.3 L31.69 134.26 L31.89 134.22 L32.09 134.16 L32.3 134.1 L32.51 134.03 L32.72 133.95 L32.95 133.86 L33.2 133.75 L33.46 133.64 L33.72 133.53 L33.99 133.41 L34.27 133.3 L34.55 133.18 L34.84 133.05 L35.14 132.9 L35.44 132.73 L35.75 132.53 L36.06 132.31 L36.38 132.06 L36.7 131.77 L37.03 131.44 L37.36 131.07 L37.7 130.68 L38.04 130.25 L38.39 129.81 L38.75 129.34 L39.11 128.85 L39.48 128.36 L39.85 127.85 L40.23 127.35 L40.61 126.84 L41 126.34 L41.4 125.83 L41.82 125.31 L42.25 124.76 L42.69 124.19 L43.13 123.62 L43.58 123.04 L44.02 122.45 L44.46 121.87 L44.89 121.29 L45.31 120.72 L45.71 120.16 L46.1 119.61 L46.47 119.08 L46.83 118.55 L47.18 118.02 L47.51 117.51 L47.85 116.99 L48.17 116.48 L48.49 115.97 L48.8 115.47 L49.1 114.96 L49.4 114.46 L49.7 113.96 L50 113.45 L50.29 112.95 L50.55 112.46 L50.8 111.97 L51.05 111.49 L51.29 111.01 L51.52 110.53 L51.77 110.05 L52.02 109.56 L52.28 109.06 L52.56 108.55 L52.87 108.03 L53.2 107.5 L53.56 106.94 L53.94 106.36 L54.34 105.76 L54.76 105.14 L55.19 104.52 L55.62 103.9 L56.07 103.28 L56.52 102.66 L56.97 102.07 L57.42 101.49 L57.87 100.94 L58.3 100.42 L58.73 99.93 L59.16 99.46 L59.59 99 L60.03 98.57 L60.46 98.15 L60.89 97.74 L61.33 97.35 L61.76 96.96 L62.2 96.57 L62.63 96.19 L63.07 95.81 L63.5 95.43 L63.93 95.04 L64.37 94.67 L64.8 94.3 L65.23 93.94 L65.67 93.58 L66.1 93.23 L66.53 92.88 L66.97 92.54 L67.4 92.2 L67.83 91.87 L68.27 91.54 L68.7 91.21 L69.14 90.89 L69.59 90.57 L70.04 90.25 L70.49 89.93 L70.95 89.62 L71.4 89.31 L71.85 89.01 L72.29 88.73 L72.71 88.45 L73.13 88.18 L73.52 87.93 L73.9 87.7 L74.25 87.49 L74.58 87.3 L74.88 87.13 L75.17 86.98 L75.45 86.85 L75.72 86.72 L76 86.59 L76.27 86.46 L76.55 86.33 L76.85 86.2 L77.16 86.05 L77.5 85.88 L77.86 85.69 L78.25 85.47 L78.65 85.23 L79.06 84.98 L79.48 84.72 L79.91 84.47 L80.33 84.22 L80.75 84 L81.16 83.81 L81.56 83.66 L81.94 83.55 L82.3 83.49 L82.64 83.48 L82.96 83.52 L83.27 83.59 L83.57 83.69 L83.86 83.83 L84.14 83.98 L84.41 84.16 L84.69 84.35 L84.96 84.56 L85.24 84.77 L85.52 84.98 L85.8 85.19 L86.09 85.41 L86.37 85.64 L86.65 85.88 L86.94 86.14 L87.22 86.4 L87.5 86.68 L87.78 86.97 L88.06 87.26 L88.35 87.56 L88.63 87.87 L88.91 88.18 L89.2 88.5 L89.49 88.82 L89.78 89.16 L90.07 89.5 L90.36 89.86 L90.66 90.22 L90.95 90.59 L91.24 90.96 L91.54 91.33 L91.83 91.7 L92.12 92.07 L92.41 92.44 L92.7 92.8 L92.99 93.16 L93.27 93.53 L93.55 93.9 L93.84 94.28 L94.12 94.65 L94.4 95.02 L94.68 95.39 L94.96 95.75 L95.25 96.11 L95.53 96.45 L95.81 96.79 L96.1 97.11 L96.39 97.42 L96.68 97.74 L96.97 98.06 L97.26 98.38 L97.56 98.69 L97.85 98.99 L98.14 99.27 L98.44 99.53 L98.73 99.77 L99.02 99.99 L99.31 100.17 L99.6 100.31 L99.89 100.42 L100.17 100.49 L100.46 100.52 L100.74 100.53 L101.02 100.52 L101.31 100.49 L101.59 100.44 L101.87 100.38 L102.15 100.31 L102.43 100.24 L102.72 100.18 L103 100.11 L103.28 100.05 L103.56 99.98 L103.83 99.91 L104.1 99.82 L104.37 99.73 L104.64 99.63 L104.92 99.53 L105.2 99.42 L105.49 99.3 L105.78 99.18 L106.09 99.05 L106.4 98.92 L106.73 98.76 L107.06 98.57 L107.41 98.36 L107.77 98.13 L108.13 97.9 L108.49 97.66 L108.86 97.44 L109.23 97.24 L109.6 97.07 L109.97 96.94 L110.34 96.85 L110.7 96.82 L111.06 96.85 L111.42 96.93 L111.79 97.05 L112.16 97.2 L112.53 97.38 L112.89 97.59 L113.26 97.81 L113.62 98.04 L113.97 98.28 L114.32 98.51 L114.67 98.73 L115 98.93 L115.32 99.14 L115.64 99.39 L115.95 99.66 L116.25 99.95 L116.55 100.23 L116.84 100.51 L117.14 100.77 L117.43 101.01 L117.72 101.2 L118.01 101.34 L118.3 101.42 L118.6 101.43 L118.9 101.39 L119.21 101.33 L119.52 101.23 L119.83 101.1 L120.14 100.93 L120.44 100.71 L120.75 100.45 L121.05 100.13 L121.35 99.75 L121.64 99.32 L121.92 98.81 L122.2 98.24 L122.47 97.58 L122.72 96.82 L122.97 95.99 L123.22 95.08 L123.46 94.12 L123.69 93.12 L123.93 92.07 L124.16 91.01 L124.39 89.93 L124.62 88.85 L124.86 87.79 L125.1 86.75 L125.34 85.71 L125.58 84.64 L125.82 83.55 L126.06 82.44 L126.3 81.31 L126.54 80.18 L126.78 79.05 L127.03 77.94 L127.27 76.84 L127.51 75.76 L127.75 74.71 L128 73.7 L128.24 72.73 L128.48 71.8 L128.72 70.89 L128.96 70 L129.2 69.12 L129.44 68.26 L129.68 67.41 L129.93 66.56 L130.18 65.7 L130.45 64.84 L130.72 63.96 L131 63.06 L131.3 62.15 L131.6 61.21 L131.92 60.26 L132.25 59.3 L132.59 58.34 L132.93 57.38 L133.26 56.42 L133.6 55.47 L133.94 54.53 L134.27 53.62 L134.59 52.74 L134.9 51.9 L135.2 51.08 L135.48 50.29 L135.76 49.53 L136.03 48.78 L136.29 48.05 L136.56 47.34 L136.82 46.65 L137.1 45.96 L137.38 45.29 L137.67 44.63 L137.98 43.98 L138.3 43.34 L138.64 42.7 L139 42.07 L139.37 41.44 L139.74 40.82 L140.13 40.22 L140.53 39.63 L140.92 39.06 L141.32 38.5 L141.72 37.96 L142.12 37.45 L142.51 36.96 L142.9 36.5 L143.28 36.06 L143.67 35.65 L144.05 35.26 L144.43 34.9 L144.82 34.55 L145.2 34.22 L145.58 33.91 L145.97 33.61 L146.35 33.32 L146.73 33.05 L147.12 32.78 L147.5 32.52 L147.88 32.28 L148.27 32.05 L148.65 31.84 L149.03 31.64 L149.42 31.45 L149.8 31.28 L150.18 31.12 L150.57 30.96 L150.95 30.82 L151.33 30.68 L151.72 30.55 L152.1 30.42 L152.48 30.3 L152.85 30.19 L153.22 30.09 L153.59 29.99 L153.95 29.91 L154.32 29.83 L154.69 29.76 L155.07 29.7 L155.46 29.64 L155.86 29.6 L156.27 29.56 L156.7 29.52 L157.15 29.5 L157.63 29.48 L158.13 29.46 L158.65 29.46 L159.17 29.46 L159.7 29.47 L160.22 29.48 L160.74 29.51 L161.24 29.55 L161.72 29.6 L162.18 29.65 L162.6 29.72 L162.98 29.81 L163.31 29.91 L163.61 30.03 L163.88 30.16 L164.14 30.3 L164.39 30.44 L164.65 30.59 L164.93 30.75 L165.23 30.9 L165.57 31.05 L165.96 31.19 L166.4 31.32 L166.9 31.45 L167.45 31.58 L168.03 31.71 L168.65 31.83 L169.3 31.96 L169.96 32.09 L170.64 32.21 L171.33 32.33 L172.01 32.46 L172.69 32.58 L173.35 32.7 L174 32.82 L174.63 32.94 L175.27 33.05 L175.9 33.16 L176.53 33.26 L177.17 33.36 L177.8 33.47 L178.43 33.57 L179.07 33.69 L179.7 33.81 L180.33 33.93 L180.97 34.07 L181.6 34.22 L182.25 34.39 L182.92 34.58 L183.61 34.79 L184.31 35.01 L185.01 35.24 L185.7 35.47 L186.37 35.69 L187.02 35.91 L187.64 36.12 L188.21 36.31 L188.73 36.48 L189.2 36.62 L189.61 36.74 L189.98 36.85 L190.3 36.93 L190.59 37.01 L190.85 37.07 L191.07 37.12 L191.27 37.17 L191.45 37.2 L191.61 37.24 L191.75 37.27 L191.88 37.29 L192 37.32" stroke="url(#bg0)" stroke-width="1.05"/>
<path d="M22.5 138.03 L22.54 138.03 L22.58 138.04 L22.62 138.04 L22.66 138.04 L22.71 138.04 L22.77 138.05 L22.84 138.05 L22.93 138.06 L23.04 138.07 L23.17 138.09 L23.32 138.1 L23.5 138.12 L23.71 138.15 L23.96 138.19 L24.24 138.23 L24.54 138.28 L24.87 138.32 L25.2 138.37 L25.54 138.42 L25.89 138.47 L26.23 138.51 L26.57 138.55 L26.89 138.58 L27.2 138.6 L27.5 138.61 L27.79 138.62 L28.09 138.62 L28.39 138.62 L28.68 138.62 L28.97 138.61 L29.26 138.6 L29.54 138.58 L29.81 138.56 L30.08 138.53 L30.35 138.51 L30.6 138.47 L30.84 138.44 L31.07 138.4 L31.29 138.37 L31.49 138.33 L31.69 138.29 L31.89 138.24 L32.09 138.18 L32.3 138.12 L32.51 138.05 L32.72 137.96 L32.95 137.86 L33.2 137.75 L33.46 137.64 L33.72 137.52 L33.99 137.4 L34.27 137.27 L34.55 137.13 L34.84 136.97 L35.14 136.8 L35.44 136.6 L35.75 136.38 L36.06 136.14 L36.38 135.86 L36.7 135.54 L37.03 135.19 L37.36 134.8 L37.7 134.38 L38.04 133.93 L38.39 133.45 L38.75 132.95 L39.11 132.44 L39.48 131.91 L39.85 131.38 L40.23 130.85 L40.61 130.31 L41 129.78 L41.4 129.24 L41.82 128.69 L42.25 128.13 L42.69 127.58 L43.13 127.01 L43.58 126.45 L44.02 125.88 L44.46 125.31 L44.89 124.74 L45.31 124.19 L45.71 123.64 L46.1 123.1 L46.47 122.58 L46.83 122.06 L47.18 121.55 L47.51 121.04 L47.85 120.54 L48.17 120.03 L48.49 119.54 L48.8 119.04 L49.1 118.55 L49.4 118.05 L49.7 117.56 L50 117.06 L50.29 116.57 L50.55 116.09 L50.8 115.61 L51.05 115.14 L51.29 114.67 L51.52 114.19 L51.77 113.72 L52.02 113.23 L52.28 112.75 L52.56 112.25 L52.87 111.74 L53.2 111.21 L53.56 110.67 L53.94 110.1 L54.34 109.51 L54.76 108.91 L55.19 108.3 L55.62 107.69 L56.07 107.08 L56.52 106.48 L56.97 105.9 L57.42 105.33 L57.87 104.8 L58.3 104.29 L58.73 103.81 L59.16 103.36 L59.59 102.92 L60.03 102.5 L60.46 102.09 L60.89 101.7 L61.33 101.32 L61.76 100.94 L62.2 100.57 L62.63 100.21 L63.07 99.84 L63.5 99.48 L63.93 99.12 L64.37 98.76 L64.8 98.41 L65.23 98.06 L65.67 97.72 L66.1 97.39 L66.53 97.06 L66.97 96.73 L67.4 96.42 L67.83 96.1 L68.27 95.79 L68.7 95.48 L69.14 95.18 L69.59 94.88 L70.04 94.58 L70.49 94.28 L70.95 93.98 L71.4 93.7 L71.85 93.42 L72.29 93.15 L72.71 92.89 L73.13 92.64 L73.52 92.41 L73.9 92.19 L74.25 91.99 L74.58 91.82 L74.88 91.66 L75.17 91.52 L75.45 91.38 L75.72 91.25 L76 91.12 L76.27 91 L76.55 90.87 L76.85 90.73 L77.16 90.58 L77.5 90.41 L77.86 90.22 L78.25 90 L78.65 89.76 L79.06 89.5 L79.48 89.24 L79.91 88.99 L80.33 88.75 L80.75 88.53 L81.16 88.33 L81.56 88.18 L81.94 88.06 L82.3 88.01 L82.64 88 L82.96 88.03 L83.27 88.1 L83.57 88.21 L83.86 88.34 L84.14 88.5 L84.41 88.67 L84.69 88.87 L84.96 89.07 L85.24 89.28 L85.52 89.49 L85.8 89.7 L86.09 89.92 L86.37 90.15 L86.65 90.39 L86.94 90.64 L87.22 90.91 L87.5 91.19 L87.78 91.47 L88.06 91.76 L88.35 92.06 L88.63 92.37 L88.91 92.68 L89.2 93 L89.49 93.32 L89.78 93.65 L90.07 94 L90.36 94.35 L90.66 94.72 L90.95 95.08 L91.24 95.45 L91.54 95.82 L91.83 96.19 L92.12 96.56 L92.41 96.93 L92.7 97.29 L92.99 97.65 L93.27 98.02 L93.55 98.39 L93.84 98.76 L94.12 99.14 L94.4 99.51 L94.68 99.88 L94.96 100.24 L95.25 100.59 L95.53 100.94 L95.81 101.27 L96.1 101.59 L96.39 101.9 L96.68 102.22 L96.97 102.54 L97.26 102.86 L97.56 103.17 L97.85 103.47 L98.14 103.75 L98.44 104.01 L98.73 104.25 L99.02 104.46 L99.31 104.64 L99.6 104.78 L99.89 104.89 L100.17 104.96 L100.46 105 L100.74 105 L101.02 104.99 L101.31 104.96 L101.59 104.91 L101.87 104.85 L102.15 104.78 L102.43 104.71 L102.72 104.64 L103 104.58 L103.28 104.52 L103.56 104.45 L103.83 104.37 L104.1 104.29 L104.37 104.19 L104.64 104.1 L104.92 103.99 L105.2 103.88 L105.49 103.76 L105.78 103.64 L106.09 103.51 L106.4 103.38 L106.73 103.22 L107.06 103.03 L107.41 102.81 L107.77 102.58 L108.13 102.35 L108.49 102.12 L108.86 101.9 L109.23 101.69 L109.6 101.52 L109.97 101.39 L110.34 101.3 L110.7 101.27 L111.06 101.3 L111.42 101.37 L111.79 101.49 L112.16 101.64 L112.53 101.82 L112.89 102.03 L113.26 102.25 L113.62 102.48 L113.97 102.71 L114.32 102.94 L114.67 103.16 L115 103.36 L115.32 103.58 L115.64 103.82 L115.95 104.09 L116.25 104.38 L116.55 104.66 L116.84 104.94 L117.14 105.2 L117.43 105.44 L117.72 105.63 L118.01 105.77 L118.3 105.85 L118.6 105.86 L118.9 105.82 L119.21 105.75 L119.52 105.65 L119.83 105.52 L120.14 105.35 L120.44 105.13 L120.75 104.87 L121.05 104.55 L121.35 104.17 L121.64 103.74 L121.92 103.23 L122.2 102.66 L122.47 101.99 L122.72 101.24 L122.97 100.4 L123.22 99.5 L123.46 98.54 L123.69 97.53 L123.93 96.49 L124.16 95.42 L124.39 94.34 L124.62 93.26 L124.86 92.2 L125.1 91.15 L125.34 90.09 L125.58 88.99 L125.82 87.87 L126.06 86.74 L126.3 85.58 L126.54 84.43 L126.78 83.28 L127.03 82.13 L127.27 81.01 L127.51 79.9 L127.75 78.83 L128 77.8 L128.24 76.8 L128.48 75.84 L128.72 74.9 L128.96 73.99 L129.2 73.09 L129.44 72.21 L129.68 71.33 L129.93 70.45 L130.18 69.57 L130.45 68.67 L130.72 67.77 L131 66.84 L131.3 65.9 L131.6 64.93 L131.92 63.94 L132.25 62.95 L132.59 61.95 L132.93 60.96 L133.26 59.98 L133.6 59.02 L133.94 58.08 L134.27 57.16 L134.59 56.27 L134.9 55.42 L135.2 54.6 L135.48 53.8 L135.76 53.03 L136.03 52.28 L136.29 51.54 L136.56 50.82 L136.82 50.12 L137.1 49.43 L137.38 48.76 L137.67 48.09 L137.98 47.43 L138.3 46.78 L138.64 46.13 L139 45.49 L139.37 44.85 L139.74 44.23 L140.13 43.61 L140.53 43.02 L140.92 42.43 L141.32 41.87 L141.72 41.32 L142.12 40.8 L142.51 40.3 L142.9 39.82 L143.28 39.38 L143.67 38.96 L144.05 38.56 L144.43 38.19 L144.82 37.83 L145.2 37.5 L145.58 37.18 L145.97 36.88 L146.35 36.6 L146.73 36.32 L147.12 36.06 L147.5 35.8 L147.88 35.55 L148.27 35.33 L148.65 35.11 L149.03 34.91 L149.42 34.73 L149.8 34.56 L150.18 34.39 L150.57 34.24 L150.95 34.1 L151.33 33.96 L151.72 33.83 L152.1 33.7 L152.48 33.58 L152.85 33.47 L153.22 33.36 L153.59 33.27 L153.95 33.18 L154.32 33.11 L154.69 33.04 L155.07 32.97 L155.46 32.92 L155.86 32.87 L156.27 32.83 L156.7 32.8 L157.15 32.77 L157.63 32.75 L158.13 32.74 L158.65 32.73 L159.17 32.73 L159.7 32.74 L160.22 32.76 L160.74 32.79 L161.24 32.82 L161.72 32.87 L162.18 32.93 L162.6 33 L162.98 33.08 L163.31 33.19 L163.61 33.3 L163.88 33.43 L164.14 33.57 L164.39 33.72 L164.65 33.87 L164.93 34.02 L165.23 34.17 L165.57 34.32 L165.96 34.46 L166.4 34.6 L166.9 34.73 L167.45 34.86 L168.03 34.98 L168.65 35.11 L169.3 35.24 L169.96 35.36 L170.64 35.49 L171.33 35.61 L172.01 35.73 L172.69 35.86 L173.35 35.98 L174 36.1 L174.63 36.22 L175.27 36.33 L175.9 36.43 L176.53 36.54 L177.17 36.64 L177.8 36.74 L178.43 36.85 L179.07 36.96 L179.7 37.08 L180.33 37.21 L180.97 37.35 L181.6 37.5 L182.25 37.67 L182.92 37.86 L183.61 38.07 L184.31 38.29 L185.01 38.51 L185.7 38.74 L186.37 38.97 L187.02 39.19 L187.64 39.4 L188.21 39.59 L188.73 39.76 L189.2 39.9 L189.61 40.02 L189.98 40.12 L190.3 40.21 L190.59 40.28 L190.85 40.35 L191.07 40.4 L191.27 40.44 L191.45 40.48 L191.61 40.51 L191.75 40.54 L191.88 40.57 L192 40.6" stroke="url(#bg6)" stroke-width="1.05"/>
</g>
<path d="M23.2 154.3V4.4H190.8M23.2 154.3H190.8" fill="none" stroke="#474747" stroke-width="1"/>
<path d="M190.8 3.9V154.8" fill="none" stroke="#a9a9b6" stroke-width="1.6"/>
<path d="M39.96 4.4v1.5M190.8 19.39h-1.6M56.72 4.4v1.5M190.8 34.38h-1.6M73.48 4.4v1.5M190.8 49.37h-1.6M90.24 4.4v1.5M190.8 64.36h-1.6M107 4.4v1.5M190.8 79.35h-1.6M123.76 4.4v1.5M190.8 94.34h-1.6M140.52 4.4v1.5M190.8 109.33h-1.6M157.28 4.4v1.5M190.8 124.32h-1.6M174.04 4.4v1.5M190.8 139.31h-1.6" stroke="#383838" stroke-width="0.9" fill="none"/>
<path d="M23.2 146.41h-2.9M23.2 130.63h-2.9M23.2 114.85h-2.9M23.2 99.07h-2.9M23.2 83.29h-2.9M23.2 67.52h-2.9M23.2 51.74h-2.9M23.2 35.96h-2.9M23.2 20.18h-2.9M23.2 4.4h-2.9M23.2 138.52h-1.6M23.2 122.74h-1.6M23.2 106.96h-1.6M23.2 91.18h-1.6M23.2 75.41h-1.6M23.2 59.63h-1.6M23.2 43.85h-1.6M23.2 28.07h-1.6M23.2 12.29h-1.6" stroke="#333" stroke-width="1" fill="none"/>
<path d="M23.5 154.3v2.9M51.38 154.3v2.9M79.25 154.3v2.9M107.12 154.3v2.9M135 154.3v2.9M162.88 154.3v2.9M190.75 154.3v2.9M37.44 154.3v1.6M65.31 154.3v1.6M93.19 154.3v1.6M121.06 154.3v1.6M148.94 154.3v1.6M176.81 154.3v1.6" stroke="#333" stroke-width="1" fill="none"/>
<text x="19.7" y="148.4" font-size="5.52" textLength="5.12" lengthAdjust="spacingAndGlyphs" text-anchor="end" stroke="#161616" stroke-width="0.15" font-weight="bold" fill="#161616">10</text>
<text x="19.7" y="132.62" font-size="5.52" textLength="5.12" lengthAdjust="spacingAndGlyphs" text-anchor="end" stroke="#161616" stroke-width="0.15" font-weight="bold" fill="#161616">20</text>
<text x="19.7" y="116.84" font-size="5.52" textLength="5.12" lengthAdjust="spacingAndGlyphs" text-anchor="end" stroke="#161616" stroke-width="0.15" font-weight="bold" fill="#161616">30</text>
<text x="19.7" y="101.06" font-size="5.52" textLength="5.12" lengthAdjust="spacingAndGlyphs" text-anchor="end" stroke="#161616" stroke-width="0.15" font-weight="bold" fill="#161616">40</text>
<text x="19.7" y="85.28" font-size="5.52" textLength="5.12" lengthAdjust="spacingAndGlyphs" text-anchor="end" stroke="#161616" stroke-width="0.15" font-weight="bold" fill="#161616">50</text>
<text x="19.7" y="69.5" font-size="5.52" textLength="5.12" lengthAdjust="spacingAndGlyphs" text-anchor="end" stroke="#161616" stroke-width="0.15" font-weight="bold" fill="#161616">60</text>
<text x="19.7" y="53.72" font-size="5.52" textLength="5.12" lengthAdjust="spacingAndGlyphs" text-anchor="end" stroke="#161616" stroke-width="0.15" font-weight="bold" fill="#161616">70</text>
<text x="19.7" y="37.95" font-size="5.52" textLength="5.12" lengthAdjust="spacingAndGlyphs" text-anchor="end" stroke="#161616" stroke-width="0.15" font-weight="bold" fill="#161616">80</text>
<text x="19.7" y="22.17" font-size="5.52" textLength="5.12" lengthAdjust="spacingAndGlyphs" text-anchor="end" stroke="#161616" stroke-width="0.15" font-weight="bold" fill="#161616">90</text>
<text x="19.7" y="6.39" font-size="5.52" textLength="7.67" lengthAdjust="spacingAndGlyphs" text-anchor="end" stroke="#161616" stroke-width="0.15" font-weight="bold" fill="#161616">100</text>
<text x="23.7" y="162.98" font-size="5.49" textLength="8.18" lengthAdjust="spacingAndGlyphs" text-anchor="middle" stroke="#161616" stroke-width="0.15" font-weight="bold" fill="#161616">400</text>
<text x="51.58" y="162.98" font-size="5.49" textLength="8.18" lengthAdjust="spacingAndGlyphs" text-anchor="middle" stroke="#161616" stroke-width="0.15" font-weight="bold" fill="#161616">450</text>
<text x="79.45" y="162.98" font-size="5.49" textLength="8.18" lengthAdjust="spacingAndGlyphs" text-anchor="middle" stroke="#161616" stroke-width="0.15" font-weight="bold" fill="#161616">500</text>
<text x="107.33" y="162.98" font-size="5.49" textLength="8.18" lengthAdjust="spacingAndGlyphs" text-anchor="middle" stroke="#161616" stroke-width="0.15" font-weight="bold" fill="#161616">550</text>
<text x="135.2" y="162.98" font-size="5.49" textLength="8.18" lengthAdjust="spacingAndGlyphs" text-anchor="middle" stroke="#161616" stroke-width="0.15" font-weight="bold" fill="#161616">600</text>
<text x="163.07" y="162.98" font-size="5.49" textLength="8.18" lengthAdjust="spacingAndGlyphs" text-anchor="middle" stroke="#161616" stroke-width="0.15" font-weight="bold" fill="#161616">650</text>
<text x="190.95" y="162.98" font-size="5.49" textLength="8.18" lengthAdjust="spacingAndGlyphs" text-anchor="middle" stroke="#161616" stroke-width="0.15" font-weight="bold" fill="#161616">700</text>
<text x="25" y="12.4" font-size="6.8" textLength="6.8" lengthAdjust="spacingAndGlyphs" font-weight="bold" fill="#161616">(a)</text>
<text x="62.8" y="16.6" font-size="7.88" textLength="87.1" lengthAdjust="spacingAndGlyphs" stroke="#161616" stroke-width="0.2" font-weight="bold" fill="#161616">Number of Spectrums = 150</text>
<text x="79.6" y="171.9" font-size="7.94" textLength="53.1" lengthAdjust="spacingAndGlyphs" stroke="#161616" stroke-width="0.2" font-weight="bold" fill="#161616">Wavelength (nm)</text>
<text transform="translate(7.4 123.1) rotate(-90)" x="0" y="0" font-size="6.3" textLength="81.3" lengthAdjust="spacingAndGlyphs" font-weight="bold" fill="#161616" stroke="#161616" stroke-width="0.25">Diffuse Reflectance  (%)</text>
<path d="M223.47 50.92V78.35M224.53 58.9V106.3M225.6 56.99V85.08M226.67 55.15V84.2M227.73 62V86.22M228.8 55.05V83.19M229.87 67.87V91M230.93 55.92V81.56M232 46.7V94.9M233.07 58.83V90.55M234.13 56.94V90.72M235.2 47.6V89.3M236.27 58.09V87.93M237.33 68.42V90.6M238.4 56.7V85.04M239.47 70.18V103.4M240.53 71.84V107.6M241.6 52.5V117M242.67 59.61V86.9M243.73 38.2V93.6M244.8 57.34V85.57M245.87 51.8V97.4M246.93 56.91V84.4M248 79.03V104.37M249.07 62.12V94.2M250.13 59.5V89.99M251.2 62.07V87.85M252.27 52.5V95.3M253.33 70.17V95.64M254.4 65.3V92.1M255.47 62.76V94.92M256.53 52.5V79.14M257.6 60.7V94.2M258.67 62.55V94.71M259.73 62.5V99.1M260.8 58.88V100.6M261.87 61.83V88.6M262.93 57.8V80.67M264 56.27V81.51M265.07 56.7V99.1M266.13 70.41V96.4M267.2 69.48V103.8M268.27 60.3V83.51M269.33 61.96V84.67M270.4 65.84V97.4M271.47 54V84.62M272.53 64.47V91.84M273.6 65.03V105.5M274.67 71.06V94.45M275.74 72.05V99.1M276.8 36.1V81.37M277.87 59.78V93.43M278.94 55.7V97.8M280 58.92V83.44M281.07 66.2V92.93M282.14 69.5V92.7M283.2 52.59V86.46M284.27 53.5V81.23M285.34 67.01V109.7M286.4 61.6V87.16M287.47 69.34V92.22M288.54 66.29V91.2M289.6 34.8V97.8M290.67 49.87V76.33M291.74 64.96V92.77M292.8 71.71V100.6M293.87 40.3V81.21M294.94 45V103.4M296 60.31V93.22M297.07 63.65V108.5M298.14 55.11V88.39M299.2 54V100M300.27 63.52V96.92M301.34 49.3V103.4M302.4 71.78V102.7M303.47 53.84V87.39M304.54 54V86.1M305.6 59.56V90.02M306.67 60.74V89.9M307.74 44.5V80.36M308.8 69.18V99.83M309.87 51.2V94.9M310.94 53.72V78.46M312 68.1V104.4M313.07 52.7V85.71M314.14 71.55V96M315.2 60.54V82.74M316.27 55.6V88.3M317.34 64.42V91.77M318.4 40.1V107.1M319.47 61.92V90.79M320.54 68.16V98.3M321.6 60V92.69M322.67 67.83V101.6M323.74 57.87V87.75M324.8 45.6V78.59M325.87 62.8V101.6M326.94 47.4V92.88M328 65.61V114.8M329.07 55.6V83.39M330.14 53.64V84.4M331.2 60.27V86.1M332.27 54V87.99M333.34 55.92V78.82M334.4 56.46V89.27M335.47 57.8V91.2M336.54 62.96V93.4M337.6 51.39V77.62M338.67 44.5V86.1M339.74 62.38V95.19M340.8 53.4V84.89M341.87 62.8V120.7M342.94 56.69V86.19M344 57.8V89.4M345.07 59.12V88.11M346.14 43V94.3M347.2 60V93.92M348.27 54.64V87.2M349.34 58.54V89.28M350.4 46.7V108.2M351.47 55.08V85.9M352.54 39.5V79.56M353.6 62.4V93.4M354.67 61.4V83.75M355.74 56.7V89.4M356.8 62.27V90.05M357.87 68.9V96.86M358.94 48.9V78.27M360 55.25V88.3M361.07 58.9V83.97M362.14 63.36V85.5M363.2 60.93V86.54M364.27 61.1V85.14M365.34 67.13V100M366.4 57.21V87.13M367.47 51.8V104.9M368.54 66V98.7M369.6 51.2V86.56M370.67 54.79V79.18M371.74 56.2V92.7M372.8 62.73V95.29M373.87 58.11V84.73M374.94 63.57V87.2M376 57.8V85.76M377.07 58.43V109.7M378.14 47.4V92.75M379.2 60.36V85.69M380.27 58.9V90.5M381.34 60.95V88.36M382.4 48.9V94.3" stroke="#747474" stroke-width="0.75" fill="none"/>
<path d="M222.27 50.92h2.4M222.27 78.35h2.4M223.33 58.9h2.4M223.33 106.3h2.4M224.4 56.99h2.4M224.4 85.08h2.4M225.47 55.15h2.4M225.47 84.2h2.4M226.53 62h2.4M226.53 86.22h2.4M227.6 55.05h2.4M227.6 83.19h2.4M228.67 67.87h2.4M228.67 91h2.4M229.73 55.92h2.4M229.73 81.56h2.4M230.8 46.7h2.4M230.8 94.9h2.4M231.87 58.83h2.4M231.87 90.55h2.4M232.93 56.94h2.4M232.93 90.72h2.4M234 47.6h2.4M234 89.3h2.4M235.07 58.09h2.4M235.07 87.93h2.4M236.13 68.42h2.4M236.13 90.6h2.4M237.2 56.7h2.4M237.2 85.04h2.4M238.27 70.18h2.4M238.27 103.4h2.4M239.33 71.84h2.4M239.33 107.6h2.4M240.4 52.5h2.4M240.4 117h2.4M241.47 59.61h2.4M241.47 86.9h2.4M242.53 38.2h2.4M242.53 93.6h2.4M243.6 57.34h2.4M243.6 85.57h2.4M244.67 51.8h2.4M244.67 97.4h2.4M245.73 56.91h2.4M245.73 84.4h2.4M246.8 79.03h2.4M246.8 104.37h2.4M247.87 62.12h2.4M247.87 94.2h2.4M248.93 59.5h2.4M248.93 89.99h2.4M250 62.07h2.4M250 87.85h2.4M251.07 52.5h2.4M251.07 95.3h2.4M252.13 70.17h2.4M252.13 95.64h2.4M253.2 65.3h2.4M253.2 92.1h2.4M254.27 62.76h2.4M254.27 94.92h2.4M255.33 52.5h2.4M255.33 79.14h2.4M256.4 60.7h2.4M256.4 94.2h2.4M257.47 62.55h2.4M257.47 94.71h2.4M258.53 62.5h2.4M258.53 99.1h2.4M259.6 58.88h2.4M259.6 100.6h2.4M260.67 61.83h2.4M260.67 88.6h2.4M261.73 57.8h2.4M261.73 80.67h2.4M262.8 56.27h2.4M262.8 81.51h2.4M263.87 56.7h2.4M263.87 99.1h2.4M264.93 70.41h2.4M264.93 96.4h2.4M266 69.48h2.4M266 103.8h2.4M267.07 60.3h2.4M267.07 83.51h2.4M268.13 61.96h2.4M268.13 84.67h2.4M269.2 65.84h2.4M269.2 97.4h2.4M270.27 54h2.4M270.27 84.62h2.4M271.33 64.47h2.4M271.33 91.84h2.4M272.4 65.03h2.4M272.4 105.5h2.4M273.47 71.06h2.4M273.47 94.45h2.4M274.54 72.05h2.4M274.54 99.1h2.4M275.6 36.1h2.4M275.6 81.37h2.4M276.67 59.78h2.4M276.67 93.43h2.4M277.74 55.7h2.4M277.74 97.8h2.4M278.8 58.92h2.4M278.8 83.44h2.4M279.87 66.2h2.4M279.87 92.93h2.4M280.94 69.5h2.4M280.94 92.7h2.4M282 52.59h2.4M282 86.46h2.4M283.07 53.5h2.4M283.07 81.23h2.4M284.14 67.01h2.4M284.14 109.7h2.4M285.2 61.6h2.4M285.2 87.16h2.4M286.27 69.34h2.4M286.27 92.22h2.4M287.34 66.29h2.4M287.34 91.2h2.4M288.4 34.8h2.4M288.4 97.8h2.4M289.47 49.87h2.4M289.47 76.33h2.4M290.54 64.96h2.4M290.54 92.77h2.4M291.6 71.71h2.4M291.6 100.6h2.4M292.67 40.3h2.4M292.67 81.21h2.4M293.74 45h2.4M293.74 103.4h2.4M294.8 60.31h2.4M294.8 93.22h2.4M295.87 63.65h2.4M295.87 108.5h2.4M296.94 55.11h2.4M296.94 88.39h2.4M298 54h2.4M298 100h2.4M299.07 63.52h2.4M299.07 96.92h2.4M300.14 49.3h2.4M300.14 103.4h2.4M301.2 71.78h2.4M301.2 102.7h2.4M302.27 53.84h2.4M302.27 87.39h2.4M303.34 54h2.4M303.34 86.1h2.4M304.4 59.56h2.4M304.4 90.02h2.4M305.47 60.74h2.4M305.47 89.9h2.4M306.54 44.5h2.4M306.54 80.36h2.4M307.6 69.18h2.4M307.6 99.83h2.4M308.67 51.2h2.4M308.67 94.9h2.4M309.74 53.72h2.4M309.74 78.46h2.4M310.8 68.1h2.4M310.8 104.4h2.4M311.87 52.7h2.4M311.87 85.71h2.4M312.94 71.55h2.4M312.94 96h2.4M314 60.54h2.4M314 82.74h2.4M315.07 55.6h2.4M315.07 88.3h2.4M316.14 64.42h2.4M316.14 91.77h2.4M317.2 40.1h2.4M317.2 107.1h2.4M318.27 61.92h2.4M318.27 90.79h2.4M319.34 68.16h2.4M319.34 98.3h2.4M320.4 60h2.4M320.4 92.69h2.4M321.47 67.83h2.4M321.47 101.6h2.4M322.54 57.87h2.4M322.54 87.75h2.4M323.6 45.6h2.4M323.6 78.59h2.4M324.67 62.8h2.4M324.67 101.6h2.4M325.74 47.4h2.4M325.74 92.88h2.4M326.8 65.61h2.4M326.8 114.8h2.4M327.87 55.6h2.4M327.87 83.39h2.4M328.94 53.64h2.4M328.94 84.4h2.4M330 60.27h2.4M330 86.1h2.4M331.07 54h2.4M331.07 87.99h2.4M332.14 55.92h2.4M332.14 78.82h2.4M333.2 56.46h2.4M333.2 89.27h2.4M334.27 57.8h2.4M334.27 91.2h2.4M335.34 62.96h2.4M335.34 93.4h2.4M336.4 51.39h2.4M336.4 77.62h2.4M337.47 44.5h2.4M337.47 86.1h2.4M338.54 62.38h2.4M338.54 95.19h2.4M339.6 53.4h2.4M339.6 84.89h2.4M340.67 62.8h2.4M340.67 120.7h2.4M341.74 56.69h2.4M341.74 86.19h2.4M342.8 57.8h2.4M342.8 89.4h2.4M343.87 59.12h2.4M343.87 88.11h2.4M344.94 43h2.4M344.94 94.3h2.4M346 60h2.4M346 93.92h2.4M347.07 54.64h2.4M347.07 87.2h2.4M348.14 58.54h2.4M348.14 89.28h2.4M349.2 46.7h2.4M349.2 108.2h2.4M350.27 55.08h2.4M350.27 85.9h2.4M351.34 39.5h2.4M351.34 79.56h2.4M352.4 62.4h2.4M352.4 93.4h2.4M353.47 61.4h2.4M353.47 83.75h2.4M354.54 56.7h2.4M354.54 89.4h2.4M355.6 62.27h2.4M355.6 90.05h2.4M356.67 68.9h2.4M356.67 96.86h2.4M357.74 48.9h2.4M357.74 78.27h2.4M358.8 55.25h2.4M358.8 88.3h2.4M359.87 58.9h2.4M359.87 83.97h2.4M360.94 63.36h2.4M360.94 85.5h2.4M362 60.93h2.4M362 86.54h2.4M363.07 61.1h2.4M363.07 85.14h2.4M364.14 67.13h2.4M364.14 100h2.4M365.2 57.21h2.4M365.2 87.13h2.4M366.27 51.8h2.4M366.27 104.9h2.4M367.34 66h2.4M367.34 98.7h2.4M368.4 51.2h2.4M368.4 86.56h2.4M369.47 54.79h2.4M369.47 79.18h2.4M370.54 56.2h2.4M370.54 92.7h2.4M371.6 62.73h2.4M371.6 95.29h2.4M372.67 58.11h2.4M372.67 84.73h2.4M373.74 63.57h2.4M373.74 87.2h2.4M374.8 57.8h2.4M374.8 85.76h2.4M375.87 58.43h2.4M375.87 109.7h2.4M376.94 47.4h2.4M376.94 92.75h2.4M378 60.36h2.4M378 85.69h2.4M379.07 58.9h2.4M379.07 90.5h2.4M380.14 60.95h2.4M380.14 88.36h2.4M381.2 48.9h2.4M381.2 94.3h2.4" stroke="#4a4a4a" stroke-width="0.7" fill="none"/>
<path d="M223.47 64.63 L224.53 82.6 L225.6 71.03 L226.67 69.68 L227.73 74.11 L228.8 69.12 L229.87 79.44 L230.93 68.74 L232 70.8 L233.07 74.69 L234.13 73.83 L235.2 68.45 L236.27 73.01 L237.33 79.51 L238.4 70.87 L239.47 86.79 L240.53 89.72 L241.6 84.75 L242.67 73.26 L243.73 65.9 L244.8 71.46 L245.87 74.6 L246.93 70.66 L248 91.7 L249.07 78.16 L250.13 74.75 L251.2 74.96 L252.27 73.9 L253.33 82.91 L254.4 78.7 L255.47 78.84 L256.53 65.82 L257.6 77.45 L258.67 78.63 L259.73 80.8 L260.8 79.74 L261.87 75.21 L262.93 69.24 L264 68.89 L265.07 77.9 L266.13 83.41 L267.2 86.64 L268.27 71.91 L269.33 73.31 L270.4 81.62 L271.47 69.31 L272.53 78.15 L273.6 85.26 L274.67 82.76 L275.74 85.58 L276.8 58.73 L277.87 76.6 L278.94 76.75 L280 71.18 L281.07 79.57 L282.14 81.1 L283.2 69.52 L284.27 67.37 L285.34 88.36 L286.4 74.38 L287.47 80.78 L288.54 78.75 L289.6 66.3 L290.67 63.1 L291.74 78.86 L292.8 86.15 L293.87 60.75 L294.94 74.2 L296 76.77 L297.07 86.07 L298.14 71.75 L299.2 77 L300.27 80.22 L301.34 76.35 L302.4 87.24 L303.47 70.61 L304.54 70.05 L305.6 74.79 L306.67 75.32 L307.74 62.43 L308.8 84.51 L309.87 73.05 L310.94 66.09 L312 86.25 L313.07 69.2 L314.14 83.78 L315.2 71.64 L316.27 71.95 L317.34 78.09 L318.4 73.6 L319.47 76.35 L320.54 83.23 L321.6 76.35 L322.67 84.72 L323.74 72.81 L324.8 62.1 L325.87 82.2 L326.94 70.14 L328 90.21 L329.07 69.49 L330.14 69.02 L331.2 73.19 L332.27 71 L333.34 67.37 L334.4 72.87 L335.47 74.5 L336.54 78.18 L337.6 64.51 L338.67 65.3 L339.74 78.78 L340.8 69.14 L341.87 91.75 L342.94 71.44 L344 73.6 L345.07 73.62 L346.14 68.65 L347.2 76.96 L348.27 70.92 L349.34 73.91 L350.4 77.45 L351.47 70.49 L352.54 59.53 L353.6 77.9 L354.67 72.58 L355.74 73.05 L356.8 76.16 L357.87 82.88 L358.94 63.59 L360 71.78 L361.07 71.43 L362.14 74.43 L363.2 73.73 L364.27 73.12 L365.34 83.57 L366.4 72.17 L367.47 78.35 L368.54 82.35 L369.6 68.88 L370.67 66.99 L371.74 74.45 L372.8 79.01 L373.87 71.42 L374.94 75.38 L376 71.78 L377.07 84.06 L378.14 70.08 L379.2 73.02 L380.27 74.7 L381.34 74.65 L382.4 71.6" stroke="#3a3a3a" stroke-width="0.45" fill="none" stroke-linejoin="round"/>
<path d="M222.77 63.93h1.4v1.4h-1.4zM223.83 81.9h1.4v1.4h-1.4zM224.9 70.33h1.4v1.4h-1.4zM225.97 68.98h1.4v1.4h-1.4zM227.03 73.41h1.4v1.4h-1.4zM228.1 68.42h1.4v1.4h-1.4zM229.17 78.74h1.4v1.4h-1.4zM230.23 68.04h1.4v1.4h-1.4zM231.3 70.1h1.4v1.4h-1.4zM232.37 73.99h1.4v1.4h-1.4zM233.43 73.13h1.4v1.4h-1.4zM234.5 67.75h1.4v1.4h-1.4zM235.57 72.31h1.4v1.4h-1.4zM236.63 78.81h1.4v1.4h-1.4zM237.7 70.17h1.4v1.4h-1.4zM238.77 86.09h1.4v1.4h-1.4zM239.83 89.02h1.4v1.4h-1.4zM240.9 84.05h1.4v1.4h-1.4zM241.97 72.56h1.4v1.4h-1.4zM243.03 65.2h1.4v1.4h-1.4zM244.1 70.76h1.4v1.4h-1.4zM245.17 73.9h1.4v1.4h-1.4zM246.23 69.96h1.4v1.4h-1.4zM247.3 91h1.4v1.4h-1.4zM248.37 77.46h1.4v1.4h-1.4zM249.43 74.05h1.4v1.4h-1.4zM250.5 74.26h1.4v1.4h-1.4zM251.57 73.2h1.4v1.4h-1.4zM252.63 82.21h1.4v1.4h-1.4zM253.7 78h1.4v1.4h-1.4zM254.77 78.14h1.4v1.4h-1.4zM255.83 65.12h1.4v1.4h-1.4zM256.9 76.75h1.4v1.4h-1.4zM257.97 77.93h1.4v1.4h-1.4zM259.03 80.1h1.4v1.4h-1.4zM260.1 79.04h1.4v1.4h-1.4zM261.17 74.51h1.4v1.4h-1.4zM262.23 68.54h1.4v1.4h-1.4zM263.3 68.19h1.4v1.4h-1.4zM264.37 77.2h1.4v1.4h-1.4zM265.43 82.71h1.4v1.4h-1.4zM266.5 85.94h1.4v1.4h-1.4zM267.57 71.21h1.4v1.4h-1.4zM268.63 72.61h1.4v1.4h-1.4zM269.7 80.92h1.4v1.4h-1.4zM270.77 68.61h1.4v1.4h-1.4zM271.83 77.45h1.4v1.4h-1.4zM272.9 84.56h1.4v1.4h-1.4zM273.97 82.06h1.4v1.4h-1.4zM275.04 84.88h1.4v1.4h-1.4zM276.1 58.03h1.4v1.4h-1.4zM277.17 75.9h1.4v1.4h-1.4zM278.24 76.05h1.4v1.4h-1.4zM279.3 70.48h1.4v1.4h-1.4zM280.37 78.87h1.4v1.4h-1.4zM281.44 80.4h1.4v1.4h-1.4zM282.5 68.82h1.4v1.4h-1.4zM283.57 66.67h1.4v1.4h-1.4zM284.64 87.66h1.4v1.4h-1.4zM285.7 73.68h1.4v1.4h-1.4zM286.77 80.08h1.4v1.4h-1.4zM287.84 78.05h1.4v1.4h-1.4zM288.9 65.6h1.4v1.4h-1.4zM289.97 62.4h1.4v1.4h-1.4zM291.04 78.16h1.4v1.4h-1.4zM292.1 85.45h1.4v1.4h-1.4zM293.17 60.05h1.4v1.4h-1.4zM294.24 73.5h1.4v1.4h-1.4zM295.3 76.07h1.4v1.4h-1.4zM296.37 85.37h1.4v1.4h-1.4zM297.44 71.05h1.4v1.4h-1.4zM298.5 76.3h1.4v1.4h-1.4zM299.57 79.52h1.4v1.4h-1.4zM300.64 75.65h1.4v1.4h-1.4zM301.7 86.54h1.4v1.4h-1.4zM302.77 69.91h1.4v1.4h-1.4zM303.84 69.35h1.4v1.4h-1.4zM304.9 74.09h1.4v1.4h-1.4zM305.97 74.62h1.4v1.4h-1.4zM307.04 61.73h1.4v1.4h-1.4zM308.1 83.81h1.4v1.4h-1.4zM309.17 72.35h1.4v1.4h-1.4zM310.24 65.39h1.4v1.4h-1.4zM311.3 85.55h1.4v1.4h-1.4zM312.37 68.5h1.4v1.4h-1.4zM313.44 83.08h1.4v1.4h-1.4zM314.5 70.94h1.4v1.4h-1.4zM315.57 71.25h1.4v1.4h-1.4zM316.64 77.39h1.4v1.4h-1.4zM317.7 72.9h1.4v1.4h-1.4zM318.77 75.65h1.4v1.4h-1.4zM319.84 82.53h1.4v1.4h-1.4zM320.9 75.65h1.4v1.4h-1.4zM321.97 84.02h1.4v1.4h-1.4zM323.04 72.11h1.4v1.4h-1.4zM324.1 61.4h1.4v1.4h-1.4zM325.17 81.5h1.4v1.4h-1.4zM326.24 69.44h1.4v1.4h-1.4zM327.3 89.51h1.4v1.4h-1.4zM328.37 68.79h1.4v1.4h-1.4zM329.44 68.32h1.4v1.4h-1.4zM330.5 72.49h1.4v1.4h-1.4zM331.57 70.3h1.4v1.4h-1.4zM332.64 66.67h1.4v1.4h-1.4zM333.7 72.17h1.4v1.4h-1.4zM334.77 73.8h1.4v1.4h-1.4zM335.84 77.48h1.4v1.4h-1.4zM336.9 63.81h1.4v1.4h-1.4zM337.97 64.6h1.4v1.4h-1.4zM339.04 78.08h1.4v1.4h-1.4zM340.1 68.44h1.4v1.4h-1.4zM341.17 91.05h1.4v1.4h-1.4zM342.24 70.74h1.4v1.4h-1.4zM343.3 72.9h1.4v1.4h-1.4zM344.37 72.92h1.4v1.4h-1.4zM345.44 67.95h1.4v1.4h-1.4zM346.5 76.26h1.4v1.4h-1.4zM347.57 70.22h1.4v1.4h-1.4zM348.64 73.21h1.4v1.4h-1.4zM349.7 76.75h1.4v1.4h-1.4zM350.77 69.79h1.4v1.4h-1.4zM351.84 58.83h1.4v1.4h-1.4zM352.9 77.2h1.4v1.4h-1.4zM353.97 71.88h1.4v1.4h-1.4zM355.04 72.35h1.4v1.4h-1.4zM356.1 75.46h1.4v1.4h-1.4zM357.17 82.18h1.4v1.4h-1.4zM358.24 62.89h1.4v1.4h-1.4zM359.3 71.08h1.4v1.4h-1.4zM360.37 70.73h1.4v1.4h-1.4zM361.44 73.73h1.4v1.4h-1.4zM362.5 73.03h1.4v1.4h-1.4zM363.57 72.42h1.4v1.4h-1.4zM364.64 82.87h1.4v1.4h-1.4zM365.7 71.47h1.4v1.4h-1.4zM366.77 77.65h1.4v1.4h-1.4zM367.84 81.65h1.4v1.4h-1.4zM368.9 68.18h1.4v1.4h-1.4zM369.97 66.29h1.4v1.4h-1.4zM371.04 73.75h1.4v1.4h-1.4zM372.1 78.31h1.4v1.4h-1.4zM373.17 70.72h1.4v1.4h-1.4zM374.24 74.68h1.4v1.4h-1.4zM375.3 71.08h1.4v1.4h-1.4zM376.37 83.36h1.4v1.4h-1.4zM377.44 69.38h1.4v1.4h-1.4zM378.5 72.32h1.4v1.4h-1.4zM379.57 74h1.4v1.4h-1.4zM380.64 73.95h1.4v1.4h-1.4zM381.7 70.9h1.4v1.4h-1.4z" fill="#1e1e1e"/>
<path d="M222.47 75.2H383.4" stroke="#d8412f" stroke-width="1.3" stroke-dasharray="2.2 0.6"/>
<path d="M217.3 152.2V3.7H387.6M217.3 152.2H387.6" fill="none" stroke="#474747" stroke-width="1"/>
<path d="M387.6 3.2V152.7" fill="none" stroke="#474747" stroke-width="1.0"/>
<path d="M234.33 3.7v1.5M387.6 18.55h-1.6M251.36 3.7v1.5M387.6 33.4h-1.6M268.39 3.7v1.5M387.6 48.25h-1.6M285.42 3.7v1.5M387.6 63.1h-1.6M302.45 3.7v1.5M387.6 77.95h-1.6M319.48 3.7v1.5M387.6 92.8h-1.6M336.51 3.7v1.5M387.6 107.65h-1.6M353.54 3.7v1.5M387.6 122.5h-1.6M370.57 3.7v1.5M387.6 137.35h-1.6" stroke="#383838" stroke-width="0.9" fill="none"/>
<path d="M217.3 16.8h-2.9M217.3 43.84h-2.9M217.3 70.88h-2.9M217.3 97.92h-2.9M217.3 124.96h-2.9M217.3 152h-2.9M217.3 30.32h-1.6M217.3 57.36h-1.6M217.3 84.4h-1.6M217.3 111.44h-1.6M217.3 138.48h-1.6" stroke="#333" stroke-width="1" fill="none"/>
<path d="M222.4 152.2v2.9M254.4 152.2v2.9M286.4 152.2v2.9M318.4 152.2v2.9M350.4 152.2v2.9M382.4 152.2v2.9M238.4 152.2v1.6M270.4 152.2v1.6M302.4 152.2v1.6M334.4 152.2v1.6M366.4 152.2v1.6" stroke="#333" stroke-width="1" fill="none"/>
<text x="213.4" y="18.7" font-size="5.29" textLength="2.56" lengthAdjust="spacingAndGlyphs" text-anchor="end" stroke="#161616" stroke-width="0.15" font-weight="bold" fill="#161616">0</text>
<text x="213.4" y="45.74" font-size="5.29" textLength="4.09" lengthAdjust="spacingAndGlyphs" text-anchor="end" stroke="#161616" stroke-width="0.15" font-weight="bold" fill="#161616">-4</text>
<text x="213.4" y="72.78" font-size="5.29" textLength="4.09" lengthAdjust="spacingAndGlyphs" text-anchor="end" stroke="#161616" stroke-width="0.15" font-weight="bold" fill="#161616">-8</text>
<text x="213.4" y="99.82" font-size="5.29" textLength="6.65" lengthAdjust="spacingAndGlyphs" text-anchor="end" stroke="#161616" stroke-width="0.15" font-weight="bold" fill="#161616">-12</text>
<text x="213.4" y="126.86" font-size="5.29" textLength="6.65" lengthAdjust="spacingAndGlyphs" text-anchor="end" stroke="#161616" stroke-width="0.15" font-weight="bold" fill="#161616">-16</text>
<text x="213.4" y="153.9" font-size="5.29" textLength="6.65" lengthAdjust="spacingAndGlyphs" text-anchor="end" stroke="#161616" stroke-width="0.15" font-weight="bold" fill="#161616">-20</text>
<text x="222.4" y="161.45" font-size="5.15" textLength="2.56" lengthAdjust="spacingAndGlyphs" text-anchor="middle" stroke="#161616" stroke-width="0.15" font-weight="bold" fill="#161616">0</text>
<text x="254.4" y="161.45" font-size="5.15" textLength="5.12" lengthAdjust="spacingAndGlyphs" text-anchor="middle" stroke="#161616" stroke-width="0.15" font-weight="bold" fill="#161616">30</text>
<text x="286.4" y="161.45" font-size="5.15" textLength="5.12" lengthAdjust="spacingAndGlyphs" text-anchor="middle" stroke="#161616" stroke-width="0.15" font-weight="bold" fill="#161616">60</text>
<text x="318.4" y="161.45" font-size="5.15" textLength="5.12" lengthAdjust="spacingAndGlyphs" text-anchor="middle" stroke="#161616" stroke-width="0.15" font-weight="bold" fill="#161616">90</text>
<text x="350.4" y="161.45" font-size="5.15" textLength="7.67" lengthAdjust="spacingAndGlyphs" text-anchor="middle" stroke="#161616" stroke-width="0.15" font-weight="bold" fill="#161616">120</text>
<text x="382.4" y="161.45" font-size="5.15" textLength="7.67" lengthAdjust="spacingAndGlyphs" text-anchor="middle" stroke="#161616" stroke-width="0.15" font-weight="bold" fill="#161616">150</text>
<text x="218.9" y="11.5" font-size="7.3" textLength="7.3" lengthAdjust="spacingAndGlyphs" font-weight="bold" fill="#161616">(b)</text>
<text x="261.5" y="170.8" font-size="7.37" textLength="78.2" lengthAdjust="spacingAndGlyphs" stroke="#161616" stroke-width="0.2" font-weight="bold" fill="#161616">Spectrums Measured (150)</text>
<text transform="translate(204.2 97.7) rotate(-90)" x="0" y="0" font-size="5.9" textLength="53.7" lengthAdjust="spacingAndGlyphs" font-weight="bold" fill="#161616" stroke="#161616" stroke-width="0.25">RHb conc. (a.u.)</text>
<rect x="289.4" y="7.4" width="96.4" height="18.7" fill="#fff" stroke="#cfcfcf" stroke-width="0.7"/>
<path d="M290.2 26.65H386.35V8.2" stroke="#dedede" stroke-width="0.9" fill="none"/>
<path d="M290.8 12.9H303.6" stroke="#c4c4c4" stroke-width="0.6" stroke-dasharray="1.5 0.7"/>
<rect x="296.35" y="12.05" width="1.7" height="1.7" fill="#333"/>
<path d="M290.8 21.7H303.6" stroke="#f2b0a8" stroke-width="0.6" stroke-dasharray="1.5 0.7"/>
<rect x="296.35" y="20.85" width="1.7" height="1.7" fill="#e03c30"/>
<text x="305.4" y="15.3" font-size="6.03" textLength="79.2" lengthAdjust="spacingAndGlyphs" stroke="#161616" stroke-width="0.2" font-weight="bold" fill="#161616">RHb Conc. at 618, 628, 638 nm</text>
<text x="305.4" y="24.2" font-size="6" textLength="71" lengthAdjust="spacingAndGlyphs" stroke="#161616" stroke-width="0.2" font-weight="bold" fill="#161616">Average level of RHb Conc.</text>
<path d="M20.86 233.75V276.7M21.97 225.4V268.68M23.08 247.52V290.02M24.19 245.2V273.9M25.3 246.16V283.58M26.41 242.68V274.5M27.52 238.6V271.29M28.63 242.98V279.21M29.74 235.3V295M30.85 246.2V277.4M31.96 248.2V288.14M33.07 243V291.5M34.18 240.16V277.34M35.29 239.7V270.51M36.4 242.44V283.4M37.51 227.6V265.85M38.62 232.39V271.6M39.73 210.6V286.7M40.84 228.91V272.5M41.95 238.6V305.4M43.06 250.75V288.76M44.17 232.6V288.9M45.28 250.08V284.49M46.39 244.13V284.18M47.5 237V280M48.61 238.19V274.46M49.72 237V269.5M50.83 251.67V286.2M51.94 234.83V276.26M53.05 239.3V272.04M54.16 240.1V271.7M55.27 250.04V281.42M56.38 233.5V284.5M57.49 240.31V281.8M58.6 241.47V276.1M59.71 232V267.18M60.82 237.8V271.84M61.93 234.8V270.1M63.04 255.75V289.37M64.15 230.9V280M65.26 235.02V275.99M66.37 227.6V271.77M67.48 231.04V273.9M68.59 225.87V264.17M69.7 232.6V275.84M70.81 251.66V284M71.92 245.47V289.12M73.03 226V267.3M74.14 241.69V283.02M75.25 232V271.62M76.36 237.84V306.1M77.47 214.71V258M78.58 233.5V281.2M79.69 236.35V271.2M80.8 233.93V277.57M81.91 238.6V276.7M83.02 244.9V281.42M84.13 252.15V284.9M85.24 219.4V284.21M86.35 241.48V274.5M87.46 238.98V270.43M88.57 234.2V271.81M89.68 250.98V305.4M90.79 240.66V276.57M91.9 236.29V278.9M93.01 230.9V267.13M94.12 240.55V298.1M95.23 227.6V293.3M96.34 235.09V277.62M97.45 220.9V279.78M98.56 245.05V284M99.67 235.2V268.54M100.78 244.77V278.9M101.89 224.7V288.9M103 224.4V265.2M104.11 226.36V264.16M105.22 244.7V281.7M106.33 235.46V274.3M107.44 242.4V277.06M108.55 255.17V293M109.66 238.86V280.55M110.77 236.1V285.5M111.88 260.25V298.12M112.99 226.6V264.19M114.1 251.31V284.6M115.21 234.3V272.15M116.32 244.01V280.6M117.43 236.6V272.89M118.54 247.25V287.31M119.65 223V297.5M120.76 232.7V264.69M121.87 238.62V280.76M122.98 243.65V276.5M124.09 227.5V267.04M125.2 235.33V267.75M126.31 229.8V292.3M127.42 242.23V282.02M128.53 252.48V289.2M129.64 212.4V273.71M130.75 239.42V277.2M131.86 235.75V273.12M132.97 247.9V279.11M134.08 240.53V282.8M135.19 243.3V285.39M136.3 257.37V294.34M137.41 239.5V273.8M138.52 241.17V280.6M139.63 238.45V276.92M140.74 246.3V294.6M141.85 249.17V283.4M142.96 239.86V283.3M144.07 207.2V269.42M145.18 245.26V281.14M146.29 244.7V282.45M147.4 234.38V267.95M148.51 235.7V295.2M149.62 240.2V268.8M150.73 241.62V274.66M151.84 252.57V289.6M152.95 220.3V269.87M154.06 228.9V271.57M155.17 240.44V299.1M156.28 237.2V270.83M157.39 254.13V296.04M158.5 244.43V277.9M159.61 236.05V279.81M160.72 241.1V282.4M161.83 253.44V287.3M162.94 246.3V281.37M164.05 245.85V277.9M165.16 236.87V278.6M166.27 243.28V274.54M167.38 240.6V275.6M168.49 229.8V263.9M169.6 235.94V267.04M170.71 223.7V285.5M171.82 250.49V289.66M172.93 229.8V283.3M174.04 262.37V294.92M175.15 238.8V277.9M176.26 248.55V287.1M177.37 244.7V281.26M178.48 233.87V273.8M179.59 250.47V288.45M180.7 219.2V280.14M181.81 250.06V288.5M182.92 240.6V278.88M184.03 244.56V279.13M185.14 241.13V283.13M186.25 237.2V286.9" stroke="#747474" stroke-width="0.75" fill="none"/>
<path d="M19.66 233.75h2.4M19.66 276.7h2.4M20.77 225.4h2.4M20.77 268.68h2.4M21.88 247.52h2.4M21.88 290.02h2.4M22.99 245.2h2.4M22.99 273.9h2.4M24.1 246.16h2.4M24.1 283.58h2.4M25.21 242.68h2.4M25.21 274.5h2.4M26.32 238.6h2.4M26.32 271.29h2.4M27.43 242.98h2.4M27.43 279.21h2.4M28.54 235.3h2.4M28.54 295h2.4M29.65 246.2h2.4M29.65 277.4h2.4M30.76 248.2h2.4M30.76 288.14h2.4M31.87 243h2.4M31.87 291.5h2.4M32.98 240.16h2.4M32.98 277.34h2.4M34.09 239.7h2.4M34.09 270.51h2.4M35.2 242.44h2.4M35.2 283.4h2.4M36.31 227.6h2.4M36.31 265.85h2.4M37.42 232.39h2.4M37.42 271.6h2.4M38.53 210.6h2.4M38.53 286.7h2.4M39.64 228.91h2.4M39.64 272.5h2.4M40.75 238.6h2.4M40.75 305.4h2.4M41.86 250.75h2.4M41.86 288.76h2.4M42.97 232.6h2.4M42.97 288.9h2.4M44.08 250.08h2.4M44.08 284.49h2.4M45.19 244.13h2.4M45.19 284.18h2.4M46.3 237h2.4M46.3 280h2.4M47.41 238.19h2.4M47.41 274.46h2.4M48.52 237h2.4M48.52 269.5h2.4M49.63 251.67h2.4M49.63 286.2h2.4M50.74 234.83h2.4M50.74 276.26h2.4M51.85 239.3h2.4M51.85 272.04h2.4M52.96 240.1h2.4M52.96 271.7h2.4M54.07 250.04h2.4M54.07 281.42h2.4M55.18 233.5h2.4M55.18 284.5h2.4M56.29 240.31h2.4M56.29 281.8h2.4M57.4 241.47h2.4M57.4 276.1h2.4M58.51 232h2.4M58.51 267.18h2.4M59.62 237.8h2.4M59.62 271.84h2.4M60.73 234.8h2.4M60.73 270.1h2.4M61.84 255.75h2.4M61.84 289.37h2.4M62.95 230.9h2.4M62.95 280h2.4M64.06 235.02h2.4M64.06 275.99h2.4M65.17 227.6h2.4M65.17 271.77h2.4M66.28 231.04h2.4M66.28 273.9h2.4M67.39 225.87h2.4M67.39 264.17h2.4M68.5 232.6h2.4M68.5 275.84h2.4M69.61 251.66h2.4M69.61 284h2.4M70.72 245.47h2.4M70.72 289.12h2.4M71.83 226h2.4M71.83 267.3h2.4M72.94 241.69h2.4M72.94 283.02h2.4M74.05 232h2.4M74.05 271.62h2.4M75.16 237.84h2.4M75.16 306.1h2.4M76.27 214.71h2.4M76.27 258h2.4M77.38 233.5h2.4M77.38 281.2h2.4M78.49 236.35h2.4M78.49 271.2h2.4M79.6 233.93h2.4M79.6 277.57h2.4M80.71 238.6h2.4M80.71 276.7h2.4M81.82 244.9h2.4M81.82 281.42h2.4M82.93 252.15h2.4M82.93 284.9h2.4M84.04 219.4h2.4M84.04 284.21h2.4M85.15 241.48h2.4M85.15 274.5h2.4M86.26 238.98h2.4M86.26 270.43h2.4M87.37 234.2h2.4M87.37 271.81h2.4M88.48 250.98h2.4M88.48 305.4h2.4M89.59 240.66h2.4M89.59 276.57h2.4M90.7 236.29h2.4M90.7 278.9h2.4M91.81 230.9h2.4M91.81 267.13h2.4M92.92 240.55h2.4M92.92 298.1h2.4M94.03 227.6h2.4M94.03 293.3h2.4M95.14 235.09h2.4M95.14 277.62h2.4M96.25 220.9h2.4M96.25 279.78h2.4M97.36 245.05h2.4M97.36 284h2.4M98.47 235.2h2.4M98.47 268.54h2.4M99.58 244.77h2.4M99.58 278.9h2.4M100.69 224.7h2.4M100.69 288.9h2.4M101.8 224.4h2.4M101.8 265.2h2.4M102.91 226.36h2.4M102.91 264.16h2.4M104.02 244.7h2.4M104.02 281.7h2.4M105.13 235.46h2.4M105.13 274.3h2.4M106.24 242.4h2.4M106.24 277.06h2.4M107.35 255.17h2.4M107.35 293h2.4M108.46 238.86h2.4M108.46 280.55h2.4M109.57 236.1h2.4M109.57 285.5h2.4M110.68 260.25h2.4M110.68 298.12h2.4M111.79 226.6h2.4M111.79 264.19h2.4M112.9 251.31h2.4M112.9 284.6h2.4M114.01 234.3h2.4M114.01 272.15h2.4M115.12 244.01h2.4M115.12 280.6h2.4M116.23 236.6h2.4M116.23 272.89h2.4M117.34 247.25h2.4M117.34 287.31h2.4M118.45 223h2.4M118.45 297.5h2.4M119.56 232.7h2.4M119.56 264.69h2.4M120.67 238.62h2.4M120.67 280.76h2.4M121.78 243.65h2.4M121.78 276.5h2.4M122.89 227.5h2.4M122.89 267.04h2.4M124 235.33h2.4M124 267.75h2.4M125.11 229.8h2.4M125.11 292.3h2.4M126.22 242.23h2.4M126.22 282.02h2.4M127.33 252.48h2.4M127.33 289.2h2.4M128.44 212.4h2.4M128.44 273.71h2.4M129.55 239.42h2.4M129.55 277.2h2.4M130.66 235.75h2.4M130.66 273.12h2.4M131.77 247.9h2.4M131.77 279.11h2.4M132.88 240.53h2.4M132.88 282.8h2.4M133.99 243.3h2.4M133.99 285.39h2.4M135.1 257.37h2.4M135.1 294.34h2.4M136.21 239.5h2.4M136.21 273.8h2.4M137.32 241.17h2.4M137.32 280.6h2.4M138.43 238.45h2.4M138.43 276.92h2.4M139.54 246.3h2.4M139.54 294.6h2.4M140.65 249.17h2.4M140.65 283.4h2.4M141.76 239.86h2.4M141.76 283.3h2.4M142.87 207.2h2.4M142.87 269.42h2.4M143.98 245.26h2.4M143.98 281.14h2.4M145.09 244.7h2.4M145.09 282.45h2.4M146.2 234.38h2.4M146.2 267.95h2.4M147.31 235.7h2.4M147.31 295.2h2.4M148.42 240.2h2.4M148.42 268.8h2.4M149.53 241.62h2.4M149.53 274.66h2.4M150.64 252.57h2.4M150.64 289.6h2.4M151.75 220.3h2.4M151.75 269.87h2.4M152.86 228.9h2.4M152.86 271.57h2.4M153.97 240.44h2.4M153.97 299.1h2.4M155.08 237.2h2.4M155.08 270.83h2.4M156.19 254.13h2.4M156.19 296.04h2.4M157.3 244.43h2.4M157.3 277.9h2.4M158.41 236.05h2.4M158.41 279.81h2.4M159.52 241.1h2.4M159.52 282.4h2.4M160.63 253.44h2.4M160.63 287.3h2.4M161.74 246.3h2.4M161.74 281.37h2.4M162.85 245.85h2.4M162.85 277.9h2.4M163.96 236.87h2.4M163.96 278.6h2.4M165.07 243.28h2.4M165.07 274.54h2.4M166.18 240.6h2.4M166.18 275.6h2.4M167.29 229.8h2.4M167.29 263.9h2.4M168.4 235.94h2.4M168.4 267.04h2.4M169.51 223.7h2.4M169.51 285.5h2.4M170.62 250.49h2.4M170.62 289.66h2.4M171.73 229.8h2.4M171.73 283.3h2.4M172.84 262.37h2.4M172.84 294.92h2.4M173.95 238.8h2.4M173.95 277.9h2.4M175.06 248.55h2.4M175.06 287.1h2.4M176.17 244.7h2.4M176.17 281.26h2.4M177.28 233.87h2.4M177.28 273.8h2.4M178.39 250.47h2.4M178.39 288.45h2.4M179.5 219.2h2.4M179.5 280.14h2.4M180.61 250.06h2.4M180.61 288.5h2.4M181.72 240.6h2.4M181.72 278.88h2.4M182.83 244.56h2.4M182.83 279.13h2.4M183.94 241.13h2.4M183.94 283.13h2.4M185.05 237.2h2.4M185.05 286.9h2.4" stroke="#4a4a4a" stroke-width="0.7" fill="none"/>
<path d="M20.86 255.23 L21.97 247.04 L23.08 268.77 L24.19 259.55 L25.3 264.87 L26.41 258.59 L27.52 254.94 L28.63 261.1 L29.74 265.15 L30.85 261.8 L31.96 268.17 L33.07 267.25 L34.18 258.75 L35.29 255.1 L36.4 262.92 L37.51 246.72 L38.62 251.99 L39.73 248.65 L40.84 250.71 L41.95 272 L43.06 269.76 L44.17 260.75 L45.28 267.28 L46.39 264.15 L47.5 258.5 L48.61 256.33 L49.72 253.25 L50.83 268.94 L51.94 255.54 L53.05 255.67 L54.16 255.9 L55.27 265.73 L56.38 259 L57.49 261.06 L58.6 258.78 L59.71 249.59 L60.82 254.82 L61.93 252.45 L63.04 272.56 L64.15 255.45 L65.26 255.5 L66.37 249.69 L67.48 252.47 L68.59 245.02 L69.7 254.22 L70.81 267.83 L71.92 267.29 L73.03 246.65 L74.14 262.36 L75.25 251.81 L76.36 271.97 L77.47 236.36 L78.58 257.35 L79.69 253.77 L80.8 255.75 L81.91 257.65 L83.02 263.16 L84.13 268.52 L85.24 251.81 L86.35 257.99 L87.46 254.7 L88.57 253.01 L89.68 278.19 L90.79 258.62 L91.9 257.59 L93.01 249.01 L94.12 269.32 L95.23 260.45 L96.34 256.35 L97.45 250.34 L98.56 264.52 L99.67 251.87 L100.78 261.83 L101.89 256.8 L103 244.8 L104.11 245.26 L105.22 263.2 L106.33 254.88 L107.44 259.73 L108.55 274.08 L109.66 259.7 L110.77 260.8 L111.88 279.18 L112.99 245.39 L114.1 267.95 L115.21 253.23 L116.32 262.3 L117.43 254.75 L118.54 267.28 L119.65 260.25 L120.76 248.69 L121.87 259.69 L122.98 260.07 L124.09 247.27 L125.2 251.54 L126.31 261.05 L127.42 262.12 L128.53 270.84 L129.64 243.05 L130.75 258.31 L131.86 254.44 L132.97 263.5 L134.08 261.66 L135.19 264.34 L136.3 275.86 L137.41 256.65 L138.52 260.89 L139.63 257.68 L140.74 270.45 L141.85 266.28 L142.96 261.58 L144.07 238.31 L145.18 263.2 L146.29 263.58 L147.4 251.17 L148.51 265.45 L149.62 254.5 L150.73 258.14 L151.84 271.08 L152.95 245.08 L154.06 250.23 L155.17 269.77 L156.28 254.01 L157.39 275.09 L158.5 261.17 L159.61 257.93 L160.72 261.75 L161.83 270.37 L162.94 263.84 L164.05 261.87 L165.16 257.74 L166.27 258.91 L167.38 258.1 L168.49 246.85 L169.6 251.49 L170.71 254.6 L171.82 270.08 L172.93 256.55 L174.04 278.65 L175.15 258.35 L176.26 267.83 L177.37 262.98 L178.48 253.84 L179.59 269.46 L180.7 249.67 L181.81 269.28 L182.92 259.74 L184.03 261.85 L185.14 262.13 L186.25 262.05" stroke="#3a3a3a" stroke-width="0.45" fill="none" stroke-linejoin="round"/>
<path d="M20.16 254.53h1.4v1.4h-1.4zM21.27 246.34h1.4v1.4h-1.4zM22.38 268.07h1.4v1.4h-1.4zM23.49 258.85h1.4v1.4h-1.4zM24.6 264.17h1.4v1.4h-1.4zM25.71 257.89h1.4v1.4h-1.4zM26.82 254.24h1.4v1.4h-1.4zM27.93 260.4h1.4v1.4h-1.4zM29.04 264.45h1.4v1.4h-1.4zM30.15 261.1h1.4v1.4h-1.4zM31.26 267.47h1.4v1.4h-1.4zM32.37 266.55h1.4v1.4h-1.4zM33.48 258.05h1.4v1.4h-1.4zM34.59 254.4h1.4v1.4h-1.4zM35.7 262.22h1.4v1.4h-1.4zM36.81 246.02h1.4v1.4h-1.4zM37.92 251.29h1.4v1.4h-1.4zM39.03 247.95h1.4v1.4h-1.4zM40.14 250.01h1.4v1.4h-1.4zM41.25 271.3h1.4v1.4h-1.4zM42.36 269.06h1.4v1.4h-1.4zM43.47 260.05h1.4v1.4h-1.4zM44.58 266.58h1.4v1.4h-1.4zM45.69 263.45h1.4v1.4h-1.4zM46.8 257.8h1.4v1.4h-1.4zM47.91 255.63h1.4v1.4h-1.4zM49.02 252.55h1.4v1.4h-1.4zM50.13 268.24h1.4v1.4h-1.4zM51.24 254.84h1.4v1.4h-1.4zM52.35 254.97h1.4v1.4h-1.4zM53.46 255.2h1.4v1.4h-1.4zM54.57 265.03h1.4v1.4h-1.4zM55.68 258.3h1.4v1.4h-1.4zM56.79 260.36h1.4v1.4h-1.4zM57.9 258.08h1.4v1.4h-1.4zM59.01 248.89h1.4v1.4h-1.4zM60.12 254.12h1.4v1.4h-1.4zM61.23 251.75h1.4v1.4h-1.4zM62.34 271.86h1.4v1.4h-1.4zM63.45 254.75h1.4v1.4h-1.4zM64.56 254.8h1.4v1.4h-1.4zM65.67 248.99h1.4v1.4h-1.4zM66.78 251.77h1.4v1.4h-1.4zM67.89 244.32h1.4v1.4h-1.4zM69 253.52h1.4v1.4h-1.4zM70.11 267.13h1.4v1.4h-1.4zM71.22 266.59h1.4v1.4h-1.4zM72.33 245.95h1.4v1.4h-1.4zM73.44 261.66h1.4v1.4h-1.4zM74.55 251.11h1.4v1.4h-1.4zM75.66 271.27h1.4v1.4h-1.4zM76.77 235.66h1.4v1.4h-1.4zM77.88 256.65h1.4v1.4h-1.4zM78.99 253.07h1.4v1.4h-1.4zM80.1 255.05h1.4v1.4h-1.4zM81.21 256.95h1.4v1.4h-1.4zM82.32 262.46h1.4v1.4h-1.4zM83.43 267.82h1.4v1.4h-1.4zM84.54 251.11h1.4v1.4h-1.4zM85.65 257.29h1.4v1.4h-1.4zM86.76 254h1.4v1.4h-1.4zM87.87 252.31h1.4v1.4h-1.4zM88.98 277.49h1.4v1.4h-1.4zM90.09 257.92h1.4v1.4h-1.4zM91.2 256.89h1.4v1.4h-1.4zM92.31 248.31h1.4v1.4h-1.4zM93.42 268.62h1.4v1.4h-1.4zM94.53 259.75h1.4v1.4h-1.4zM95.64 255.65h1.4v1.4h-1.4zM96.75 249.64h1.4v1.4h-1.4zM97.86 263.82h1.4v1.4h-1.4zM98.97 251.17h1.4v1.4h-1.4zM100.08 261.13h1.4v1.4h-1.4zM101.19 256.1h1.4v1.4h-1.4zM102.3 244.1h1.4v1.4h-1.4zM103.41 244.56h1.4v1.4h-1.4zM104.52 262.5h1.4v1.4h-1.4zM105.63 254.18h1.4v1.4h-1.4zM106.74 259.03h1.4v1.4h-1.4zM107.85 273.38h1.4v1.4h-1.4zM108.96 259h1.4v1.4h-1.4zM110.07 260.1h1.4v1.4h-1.4zM111.18 278.48h1.4v1.4h-1.4zM112.29 244.69h1.4v1.4h-1.4zM113.4 267.25h1.4v1.4h-1.4zM114.51 252.53h1.4v1.4h-1.4zM115.62 261.6h1.4v1.4h-1.4zM116.73 254.05h1.4v1.4h-1.4zM117.84 266.58h1.4v1.4h-1.4zM118.95 259.55h1.4v1.4h-1.4zM120.06 247.99h1.4v1.4h-1.4zM121.17 258.99h1.4v1.4h-1.4zM122.28 259.37h1.4v1.4h-1.4zM123.39 246.57h1.4v1.4h-1.4zM124.5 250.84h1.4v1.4h-1.4zM125.61 260.35h1.4v1.4h-1.4zM126.72 261.42h1.4v1.4h-1.4zM127.83 270.14h1.4v1.4h-1.4zM128.94 242.35h1.4v1.4h-1.4zM130.05 257.61h1.4v1.4h-1.4zM131.16 253.74h1.4v1.4h-1.4zM132.27 262.8h1.4v1.4h-1.4zM133.38 260.96h1.4v1.4h-1.4zM134.49 263.64h1.4v1.4h-1.4zM135.6 275.16h1.4v1.4h-1.4zM136.71 255.95h1.4v1.4h-1.4zM137.82 260.19h1.4v1.4h-1.4zM138.93 256.98h1.4v1.4h-1.4zM140.04 269.75h1.4v1.4h-1.4zM141.15 265.58h1.4v1.4h-1.4zM142.26 260.88h1.4v1.4h-1.4zM143.37 237.61h1.4v1.4h-1.4zM144.48 262.5h1.4v1.4h-1.4zM145.59 262.88h1.4v1.4h-1.4zM146.7 250.47h1.4v1.4h-1.4zM147.81 264.75h1.4v1.4h-1.4zM148.92 253.8h1.4v1.4h-1.4zM150.03 257.44h1.4v1.4h-1.4zM151.14 270.38h1.4v1.4h-1.4zM152.25 244.38h1.4v1.4h-1.4zM153.36 249.53h1.4v1.4h-1.4zM154.47 269.07h1.4v1.4h-1.4zM155.58 253.31h1.4v1.4h-1.4zM156.69 274.39h1.4v1.4h-1.4zM157.8 260.47h1.4v1.4h-1.4zM158.91 257.23h1.4v1.4h-1.4zM160.02 261.05h1.4v1.4h-1.4zM161.13 269.67h1.4v1.4h-1.4zM162.24 263.14h1.4v1.4h-1.4zM163.35 261.17h1.4v1.4h-1.4zM164.46 257.04h1.4v1.4h-1.4zM165.57 258.21h1.4v1.4h-1.4zM166.68 257.4h1.4v1.4h-1.4zM167.79 246.15h1.4v1.4h-1.4zM168.9 250.79h1.4v1.4h-1.4zM170.01 253.9h1.4v1.4h-1.4zM171.12 269.38h1.4v1.4h-1.4zM172.23 255.85h1.4v1.4h-1.4zM173.34 277.95h1.4v1.4h-1.4zM174.45 257.65h1.4v1.4h-1.4zM175.56 267.13h1.4v1.4h-1.4zM176.67 262.28h1.4v1.4h-1.4zM177.78 253.14h1.4v1.4h-1.4zM178.89 268.76h1.4v1.4h-1.4zM180 248.97h1.4v1.4h-1.4zM181.11 268.58h1.4v1.4h-1.4zM182.22 259.04h1.4v1.4h-1.4zM183.33 261.15h1.4v1.4h-1.4zM184.44 261.43h1.4v1.4h-1.4zM185.55 261.35h1.4v1.4h-1.4z" fill="#1e1e1e"/>
<path d="M19.86 259.5H187.25" stroke="#d8412f" stroke-width="1.3" stroke-dasharray="2.2 0.6"/>
<path d="M17.6 326.3V176.2H191.5M17.6 326.3H191.5" fill="none" stroke="#474747" stroke-width="1"/>
<path d="M191.5 175.7V326.8" fill="none" stroke="#474747" stroke-width="1.0"/>
<path d="M34.99 176.2v1.5M191.5 191.21h-1.6M52.38 176.2v1.5M191.5 206.22h-1.6M69.77 176.2v1.5M191.5 221.23h-1.6M87.16 176.2v1.5M191.5 236.24h-1.6M104.55 176.2v1.5M191.5 251.25h-1.6M121.94 176.2v1.5M191.5 266.26h-1.6M139.33 176.2v1.5M191.5 281.27h-1.6M156.72 176.2v1.5M191.5 296.28h-1.6M174.11 176.2v1.5M191.5 311.29h-1.6" stroke="#383838" stroke-width="0.9" fill="none"/>
<path d="M17.6 312.5h-2.9M17.6 278.4h-2.9M17.6 244.3h-2.9M17.6 210.2h-2.9M17.6 176.1h-2.9M17.6 295.45h-1.6M17.6 261.35h-1.6M17.6 227.25h-1.6M17.6 193.15h-1.6" stroke="#333" stroke-width="1" fill="none"/>
<path d="M19.75 326.3v2.9M53.05 326.3v2.9M86.35 326.3v2.9M119.65 326.3v2.9M152.95 326.3v2.9M186.25 326.3v2.9M36.4 326.3v1.6M69.7 326.3v1.6M103 326.3v1.6M136.3 326.3v1.6M169.6 326.3v1.6" stroke="#333" stroke-width="1" fill="none"/>
<text x="13.3" y="314.85" font-size="6.53" textLength="2.56" lengthAdjust="spacingAndGlyphs" text-anchor="end" stroke="#161616" stroke-width="0.15" font-weight="bold" fill="#161616">0</text>
<text x="13.3" y="280.75" font-size="6.53" textLength="2.56" lengthAdjust="spacingAndGlyphs" text-anchor="end" stroke="#161616" stroke-width="0.15" font-weight="bold" fill="#161616">1</text>
<text x="13.3" y="246.65" font-size="6.53" textLength="2.56" lengthAdjust="spacingAndGlyphs" text-anchor="end" stroke="#161616" stroke-width="0.15" font-weight="bold" fill="#161616">2</text>
<text x="13.3" y="212.55" font-size="6.53" textLength="2.56" lengthAdjust="spacingAndGlyphs" text-anchor="end" stroke="#161616" stroke-width="0.15" font-weight="bold" fill="#161616">3</text>
<text x="13.3" y="178.45" font-size="6.53" textLength="2.56" lengthAdjust="spacingAndGlyphs" text-anchor="end" stroke="#161616" stroke-width="0.15" font-weight="bold" fill="#161616">4</text>
<text x="19.75" y="336.95" font-size="6.53" textLength="2.56" lengthAdjust="spacingAndGlyphs" text-anchor="middle" stroke="#161616" stroke-width="0.15" font-weight="bold" fill="#161616">0</text>
<text x="53.05" y="336.95" font-size="6.53" textLength="5.12" lengthAdjust="spacingAndGlyphs" text-anchor="middle" stroke="#161616" stroke-width="0.15" font-weight="bold" fill="#161616">30</text>
<text x="86.35" y="336.95" font-size="6.53" textLength="5.12" lengthAdjust="spacingAndGlyphs" text-anchor="middle" stroke="#161616" stroke-width="0.15" font-weight="bold" fill="#161616">60</text>
<text x="119.65" y="336.95" font-size="6.53" textLength="5.12" lengthAdjust="spacingAndGlyphs" text-anchor="middle" stroke="#161616" stroke-width="0.15" font-weight="bold" fill="#161616">90</text>
<text x="152.95" y="336.95" font-size="6.53" textLength="7.67" lengthAdjust="spacingAndGlyphs" text-anchor="middle" stroke="#161616" stroke-width="0.15" font-weight="bold" fill="#161616">120</text>
<text x="186.25" y="336.95" font-size="6.53" textLength="7.67" lengthAdjust="spacingAndGlyphs" text-anchor="middle" stroke="#161616" stroke-width="0.15" font-weight="bold" fill="#161616">150</text>
<text x="18.8" y="184.7" font-size="7.3" textLength="7.7" lengthAdjust="spacingAndGlyphs" font-weight="bold" fill="#161616">(c)</text>
<text x="59" y="344.5" font-size="8.02" textLength="85" lengthAdjust="spacingAndGlyphs" stroke="#161616" stroke-width="0.2" font-weight="bold" fill="#161616">Spectrums Measured (150)</text>
<text transform="translate(7 277.7) rotate(-90)" x="0" y="0" font-size="6.6" textLength="61.7" lengthAdjust="spacingAndGlyphs" font-weight="bold" fill="#161616" stroke="#161616" stroke-width="0.25">HbO<tspan font-size="4.49" dy="1.45">2</tspan><tspan dy="-1.45"> conc. (a.u.)</tspan></text>
<rect x="81" y="179.6" width="109.1" height="23.1" fill="#fff" stroke="#cfcfcf" stroke-width="0.7"/>
<path d="M81.8 203.25H190.65V180.4" stroke="#dedede" stroke-width="0.9" fill="none"/>
<path d="M82.3 185.2H96.5" stroke="#c4c4c4" stroke-width="0.6" stroke-dasharray="1.5 0.7"/>
<rect x="88.55" y="184.35" width="1.7" height="1.7" fill="#333"/>
<path d="M82.3 196.1H96.5" stroke="#f2b0a8" stroke-width="0.6" stroke-dasharray="1.5 0.7"/>
<rect x="88.55" y="195.25" width="1.7" height="1.7" fill="#e03c30"/>
<text x="99.1" y="188.3" font-size="7.66" textLength="89.6" lengthAdjust="spacingAndGlyphs" stroke="#161616" stroke-width="0.2" font-weight="bold" fill="#161616">HbO<tspan font-size="5.21" dy="1.68">2</tspan><tspan dy="-1.68"> Conc. at 618, 628, 638 nm</tspan></text>
<text x="99.1" y="198.4" font-size="7.66" textLength="81.2" lengthAdjust="spacingAndGlyphs" stroke="#161616" stroke-width="0.2" font-weight="bold" fill="#161616">Average level of HbO<tspan font-size="5.21" dy="1.68">2</tspan><tspan dy="-1.68"> Conc.</tspan></text>
<path d="M229.12 280.46V298.2M230.14 283V298.2M231.17 273.37V291.81M232.19 277.8V297.33M233.21 285.23V299.4M234.23 280.9V297.69M235.25 277.8V296.7M236.28 282.35V300.24M237.3 256.6V306.2M238.32 280.82V296.3M239.34 267.9V296.92M240.36 285.72V299.8M241.39 274.6V294.43M242.41 280.18V299.68M243.43 271.5V302.4M244.45 279.94V294.77M245.47 278.8V296.5M246.5 286.69V305.1M247.52 274.6V293.83M248.54 248.7V302.4M249.56 290.12V305.41M250.58 266.2V303M251.61 278.92V298.69M252.63 281.3V298.54M253.65 279.23V297.3M254.67 279.9V295.13M255.69 276.08V295.72M256.72 276.7V296.7M257.74 272.09V287.89M258.76 282V298.17M259.78 283.8V298.8M260.8 282V296.87M261.83 275V300.3M262.85 281.53V297.34M263.87 278.8V296.87M264.89 280.67V296.7M265.91 280.9V296.76M266.94 280.05V298.96M267.96 282.92V299.8M268.98 282V297.89M270 280.87V297.76M271.02 284.1V296.7M272.05 281.32V295.45M273.07 280.88V299.38M274.09 279.7V298.43M275.11 279.2V297.3M276.13 282.2V299.67M277.16 284.7V299.79M278.18 282.27V302M279.2 272.5V297.32M280.22 236.3V300.94M281.24 283.33V299.4M282.27 281.71V297.83M283.29 282V299.15M284.31 285.54V304.2M285.33 278.8V298.8M286.35 284.29V303.45M287.38 275V297.93M288.4 284.75V302.4M289.42 280.5V298.16M290.44 279.89V299.4M291.46 286.14V302.18M292.49 218.5V294.77M293.51 286.23V312.9M294.53 275.7V296.79M295.55 280.92V300.9M296.57 279.91V294.88M297.6 268.3V305.1M298.62 262.2V297.48M299.64 276.7V293.14M300.66 284.38V299.8M301.68 282.95V300.52M302.71 282V298.53M303.73 285.07V299.4M304.75 278.8V301.5M305.77 278.69V292.88M306.79 282.34V299.3M307.82 274.6V292.99M308.84 278.5V298.2M309.86 271.5V298.74M310.88 280.58V295.22M311.9 279.9V299.8M312.93 284.13V299.02M313.95 279.98V296.7M314.97 274.6V294.6M315.99 277.37V296.49M317.01 283V297.7M318.04 274.89V291.61M319.06 275V294.77M320.08 271.5V301.5M321.1 282.74V297.62M322.12 291.68V307.95M323.15 282V296.7M324.17 280.46V297.46M325.19 284.39V300.42M326.21 268.3V299.8M327.23 281.79V301M328.26 283.17V299.33M329.28 277.8V304.1M330.3 273.98V291.96M331.32 284.1V298.8M332.34 280.69V296.87M333.37 278.8V295.71M334.39 277.27V295.89M335.41 279.9V301.5M336.43 287.28V303.04M337.45 279.01V296.5M338.48 262.5V298.8M339.5 281.03V298.32M340.52 287.28V304.06M341.54 278.8V296.7M342.56 281.85V299.73M343.59 282V299.86M344.61 276.95V295.38M345.63 284.63V303.6M346.65 265.8V298.31M347.67 275.96V295.18M348.7 282V296.7M349.72 271.02V288.13M350.74 284.94V302.12M351.76 286.47V306.09M352.78 267.3V297.62M353.81 280.48V298.8M354.83 283.79V302.18M355.85 285.1V302.59M356.87 286.84V304.84M357.89 282V297.3M358.92 281.71V299.45M359.94 280.48V298.8M360.96 283V297.17M361.98 276.59V291.56M363 284.1V300.75M364.03 281.93V299.83M365.05 282.51V300.3M366.07 288.55V302.8M367.09 276.7V303.6M368.11 284.04V299.4M369.14 281.3V297.2M370.16 282.87V297.96M371.18 286.34V301.5M372.2 282V296.21M373.22 277.29V294.08M374.25 283V299.4M375.27 285.75V301.17M376.29 282.08V301.5M377.31 276.7V294.89M378.33 280.19V295.87M379.36 278.31V297.3M380.38 282V298.24M381.4 283.65V297.87" stroke="#888" stroke-width="0.6" fill="none"/>
<path d="M227.92 280.46h2.4M227.92 298.2h2.4M228.94 283h2.4M228.94 298.2h2.4M229.97 273.37h2.4M229.97 291.81h2.4M230.99 277.8h2.4M230.99 297.33h2.4M232.01 285.23h2.4M232.01 299.4h2.4M233.03 280.9h2.4M233.03 297.69h2.4M234.05 277.8h2.4M234.05 296.7h2.4M235.08 282.35h2.4M235.08 300.24h2.4M236.1 256.6h2.4M236.1 306.2h2.4M237.12 280.82h2.4M237.12 296.3h2.4M238.14 267.9h2.4M238.14 296.92h2.4M239.16 285.72h2.4M239.16 299.8h2.4M240.19 274.6h2.4M240.19 294.43h2.4M241.21 280.18h2.4M241.21 299.68h2.4M242.23 271.5h2.4M242.23 302.4h2.4M243.25 279.94h2.4M243.25 294.77h2.4M244.27 278.8h2.4M244.27 296.5h2.4M245.3 286.69h2.4M245.3 305.1h2.4M246.32 274.6h2.4M246.32 293.83h2.4M247.34 248.7h2.4M247.34 302.4h2.4M248.36 290.12h2.4M248.36 305.41h2.4M249.38 266.2h2.4M249.38 303h2.4M250.41 278.92h2.4M250.41 298.69h2.4M251.43 281.3h2.4M251.43 298.54h2.4M252.45 279.23h2.4M252.45 297.3h2.4M253.47 279.9h2.4M253.47 295.13h2.4M254.49 276.08h2.4M254.49 295.72h2.4M255.52 276.7h2.4M255.52 296.7h2.4M256.54 272.09h2.4M256.54 287.89h2.4M257.56 282h2.4M257.56 298.17h2.4M258.58 283.8h2.4M258.58 298.8h2.4M259.6 282h2.4M259.6 296.87h2.4M260.63 275h2.4M260.63 300.3h2.4M261.65 281.53h2.4M261.65 297.34h2.4M262.67 278.8h2.4M262.67 296.87h2.4M263.69 280.67h2.4M263.69 296.7h2.4M264.71 280.9h2.4M264.71 296.76h2.4M265.74 280.05h2.4M265.74 298.96h2.4M266.76 282.92h2.4M266.76 299.8h2.4M267.78 282h2.4M267.78 297.89h2.4M268.8 280.87h2.4M268.8 297.76h2.4M269.82 284.1h2.4M269.82 296.7h2.4M270.85 281.32h2.4M270.85 295.45h2.4M271.87 280.88h2.4M271.87 299.38h2.4M272.89 279.7h2.4M272.89 298.43h2.4M273.91 279.2h2.4M273.91 297.3h2.4M274.93 282.2h2.4M274.93 299.67h2.4M275.96 284.7h2.4M275.96 299.79h2.4M276.98 282.27h2.4M276.98 302h2.4M278 272.5h2.4M278 297.32h2.4M279.02 236.3h2.4M279.02 300.94h2.4M280.04 283.33h2.4M280.04 299.4h2.4M281.07 281.71h2.4M281.07 297.83h2.4M282.09 282h2.4M282.09 299.15h2.4M283.11 285.54h2.4M283.11 304.2h2.4M284.13 278.8h2.4M284.13 298.8h2.4M285.15 284.29h2.4M285.15 303.45h2.4M286.18 275h2.4M286.18 297.93h2.4M287.2 284.75h2.4M287.2 302.4h2.4M288.22 280.5h2.4M288.22 298.16h2.4M289.24 279.89h2.4M289.24 299.4h2.4M290.26 286.14h2.4M290.26 302.18h2.4M291.29 218.5h2.4M291.29 294.77h2.4M292.31 286.23h2.4M292.31 312.9h2.4M293.33 275.7h2.4M293.33 296.79h2.4M294.35 280.92h2.4M294.35 300.9h2.4M295.37 279.91h2.4M295.37 294.88h2.4M296.4 268.3h2.4M296.4 305.1h2.4M297.42 262.2h2.4M297.42 297.48h2.4M298.44 276.7h2.4M298.44 293.14h2.4M299.46 284.38h2.4M299.46 299.8h2.4M300.48 282.95h2.4M300.48 300.52h2.4M301.51 282h2.4M301.51 298.53h2.4M302.53 285.07h2.4M302.53 299.4h2.4M303.55 278.8h2.4M303.55 301.5h2.4M304.57 278.69h2.4M304.57 292.88h2.4M305.59 282.34h2.4M305.59 299.3h2.4M306.62 274.6h2.4M306.62 292.99h2.4M307.64 278.5h2.4M307.64 298.2h2.4M308.66 271.5h2.4M308.66 298.74h2.4M309.68 280.58h2.4M309.68 295.22h2.4M310.7 279.9h2.4M310.7 299.8h2.4M311.73 284.13h2.4M311.73 299.02h2.4M312.75 279.98h2.4M312.75 296.7h2.4M313.77 274.6h2.4M313.77 294.6h2.4M314.79 277.37h2.4M314.79 296.49h2.4M315.81 283h2.4M315.81 297.7h2.4M316.84 274.89h2.4M316.84 291.61h2.4M317.86 275h2.4M317.86 294.77h2.4M318.88 271.5h2.4M318.88 301.5h2.4M319.9 282.74h2.4M319.9 297.62h2.4M320.92 291.68h2.4M320.92 307.95h2.4M321.95 282h2.4M321.95 296.7h2.4M322.97 280.46h2.4M322.97 297.46h2.4M323.99 284.39h2.4M323.99 300.42h2.4M325.01 268.3h2.4M325.01 299.8h2.4M326.03 281.79h2.4M326.03 301h2.4M327.06 283.17h2.4M327.06 299.33h2.4M328.08 277.8h2.4M328.08 304.1h2.4M329.1 273.98h2.4M329.1 291.96h2.4M330.12 284.1h2.4M330.12 298.8h2.4M331.14 280.69h2.4M331.14 296.87h2.4M332.17 278.8h2.4M332.17 295.71h2.4M333.19 277.27h2.4M333.19 295.89h2.4M334.21 279.9h2.4M334.21 301.5h2.4M335.23 287.28h2.4M335.23 303.04h2.4M336.25 279.01h2.4M336.25 296.5h2.4M337.28 262.5h2.4M337.28 298.8h2.4M338.3 281.03h2.4M338.3 298.32h2.4M339.32 287.28h2.4M339.32 304.06h2.4M340.34 278.8h2.4M340.34 296.7h2.4M341.36 281.85h2.4M341.36 299.73h2.4M342.39 282h2.4M342.39 299.86h2.4M343.41 276.95h2.4M343.41 295.38h2.4M344.43 284.63h2.4M344.43 303.6h2.4M345.45 265.8h2.4M345.45 298.31h2.4M346.47 275.96h2.4M346.47 295.18h2.4M347.5 282h2.4M347.5 296.7h2.4M348.52 271.02h2.4M348.52 288.13h2.4M349.54 284.94h2.4M349.54 302.12h2.4M350.56 286.47h2.4M350.56 306.09h2.4M351.58 267.3h2.4M351.58 297.62h2.4M352.61 280.48h2.4M352.61 298.8h2.4M353.63 283.79h2.4M353.63 302.18h2.4M354.65 285.1h2.4M354.65 302.59h2.4M355.67 286.84h2.4M355.67 304.84h2.4M356.69 282h2.4M356.69 297.3h2.4M357.72 281.71h2.4M357.72 299.45h2.4M358.74 280.48h2.4M358.74 298.8h2.4M359.76 283h2.4M359.76 297.17h2.4M360.78 276.59h2.4M360.78 291.56h2.4M361.8 284.1h2.4M361.8 300.75h2.4M362.83 281.93h2.4M362.83 299.83h2.4M363.85 282.51h2.4M363.85 300.3h2.4M364.87 288.55h2.4M364.87 302.8h2.4M365.89 276.7h2.4M365.89 303.6h2.4M366.91 284.04h2.4M366.91 299.4h2.4M367.94 281.3h2.4M367.94 297.2h2.4M368.96 282.87h2.4M368.96 297.96h2.4M369.98 286.34h2.4M369.98 301.5h2.4M371 282h2.4M371 296.21h2.4M372.02 277.29h2.4M372.02 294.08h2.4M373.05 283h2.4M373.05 299.4h2.4M374.07 285.75h2.4M374.07 301.17h2.4M375.09 282.08h2.4M375.09 301.5h2.4M376.11 276.7h2.4M376.11 294.89h2.4M377.13 280.19h2.4M377.13 295.87h2.4M378.16 278.31h2.4M378.16 297.3h2.4M379.18 282h2.4M379.18 298.24h2.4M380.2 283.65h2.4M380.2 297.87h2.4" stroke="#4a4a4a" stroke-width="0.7" fill="none"/>
<path d="M229.12 289.33 L230.14 290.6 L231.17 282.59 L232.19 287.57 L233.21 292.31 L234.23 289.3 L235.25 287.25 L236.28 291.29 L237.3 281.4 L238.32 288.56 L239.34 282.41 L240.36 292.76 L241.39 284.51 L242.41 289.93 L243.43 286.95 L244.45 287.35 L245.47 287.65 L246.5 295.89 L247.52 284.21 L248.54 275.55 L249.56 297.77 L250.58 284.6 L251.61 288.81 L252.63 289.92 L253.65 288.27 L254.67 287.51 L255.69 285.9 L256.72 286.7 L257.74 279.99 L258.76 290.08 L259.78 291.3 L260.8 289.44 L261.83 287.65 L262.85 289.44 L263.87 287.83 L264.89 288.69 L265.91 288.83 L266.94 289.5 L267.96 291.36 L268.98 289.95 L270 289.31 L271.02 290.4 L272.05 288.38 L273.07 290.13 L274.09 289.07 L275.11 288.25 L276.13 290.94 L277.16 292.24 L278.18 292.13 L279.2 284.91 L280.22 268.62 L281.24 291.37 L282.27 289.77 L283.29 290.57 L284.31 294.87 L285.33 288.8 L286.35 293.87 L287.38 286.47 L288.4 293.57 L289.42 289.33 L290.44 289.65 L291.46 294.16 L292.49 256.63 L293.51 299.56 L294.53 286.25 L295.55 290.91 L296.57 287.4 L297.6 286.7 L298.62 279.84 L299.64 284.92 L300.66 292.09 L301.68 291.73 L302.71 290.27 L303.73 292.23 L304.75 290.15 L305.77 285.79 L306.79 290.82 L307.82 283.79 L308.84 288.35 L309.86 285.12 L310.88 287.9 L311.9 289.85 L312.93 291.57 L313.95 288.34 L314.97 284.6 L315.99 286.93 L317.01 290.35 L318.04 283.25 L319.06 284.89 L320.08 286.5 L321.1 290.18 L322.12 299.81 L323.15 289.35 L324.17 288.96 L325.19 292.4 L326.21 284.05 L327.23 291.39 L328.26 291.25 L329.28 290.95 L330.3 282.97 L331.32 291.45 L332.34 288.78 L333.37 287.26 L334.39 286.58 L335.41 290.7 L336.43 295.16 L337.45 287.76 L338.48 280.65 L339.5 289.67 L340.52 295.67 L341.54 287.75 L342.56 290.79 L343.59 290.93 L344.61 286.17 L345.63 294.12 L346.65 282.06 L347.67 285.57 L348.7 289.35 L349.72 279.58 L350.74 293.53 L351.76 296.28 L352.78 282.46 L353.81 289.64 L354.83 292.98 L355.85 293.84 L356.87 295.84 L357.89 289.65 L358.92 290.58 L359.94 289.64 L360.96 290.08 L361.98 284.07 L363 292.42 L364.03 290.88 L365.05 291.41 L366.07 295.67 L367.09 290.15 L368.11 291.72 L369.14 289.25 L370.16 290.41 L371.18 293.92 L372.2 289.11 L373.22 285.68 L374.25 291.2 L375.27 293.46 L376.29 291.79 L377.31 285.79 L378.33 288.03 L379.36 287.81 L380.38 290.12 L381.4 290.76" stroke="#3a3a3a" stroke-width="0.45" fill="none" stroke-linejoin="round"/>
<path d="M228.42 288.63h1.4v1.4h-1.4zM229.44 289.9h1.4v1.4h-1.4zM230.47 281.89h1.4v1.4h-1.4zM231.49 286.87h1.4v1.4h-1.4zM232.51 291.61h1.4v1.4h-1.4zM233.53 288.6h1.4v1.4h-1.4zM234.55 286.55h1.4v1.4h-1.4zM235.58 290.59h1.4v1.4h-1.4zM236.6 280.7h1.4v1.4h-1.4zM237.62 287.86h1.4v1.4h-1.4zM238.64 281.71h1.4v1.4h-1.4zM239.66 292.06h1.4v1.4h-1.4zM240.69 283.81h1.4v1.4h-1.4zM241.71 289.23h1.4v1.4h-1.4zM242.73 286.25h1.4v1.4h-1.4zM243.75 286.65h1.4v1.4h-1.4zM244.77 286.95h1.4v1.4h-1.4zM245.8 295.19h1.4v1.4h-1.4zM246.82 283.51h1.4v1.4h-1.4zM247.84 274.85h1.4v1.4h-1.4zM248.86 297.07h1.4v1.4h-1.4zM249.88 283.9h1.4v1.4h-1.4zM250.91 288.11h1.4v1.4h-1.4zM251.93 289.22h1.4v1.4h-1.4zM252.95 287.57h1.4v1.4h-1.4zM253.97 286.81h1.4v1.4h-1.4zM254.99 285.2h1.4v1.4h-1.4zM256.02 286h1.4v1.4h-1.4zM257.04 279.29h1.4v1.4h-1.4zM258.06 289.38h1.4v1.4h-1.4zM259.08 290.6h1.4v1.4h-1.4zM260.1 288.74h1.4v1.4h-1.4zM261.13 286.95h1.4v1.4h-1.4zM262.15 288.74h1.4v1.4h-1.4zM263.17 287.13h1.4v1.4h-1.4zM264.19 287.99h1.4v1.4h-1.4zM265.21 288.13h1.4v1.4h-1.4zM266.24 288.8h1.4v1.4h-1.4zM267.26 290.66h1.4v1.4h-1.4zM268.28 289.25h1.4v1.4h-1.4zM269.3 288.61h1.4v1.4h-1.4zM270.32 289.7h1.4v1.4h-1.4zM271.35 287.68h1.4v1.4h-1.4zM272.37 289.43h1.4v1.4h-1.4zM273.39 288.37h1.4v1.4h-1.4zM274.41 287.55h1.4v1.4h-1.4zM275.43 290.24h1.4v1.4h-1.4zM276.46 291.54h1.4v1.4h-1.4zM277.48 291.43h1.4v1.4h-1.4zM278.5 284.21h1.4v1.4h-1.4zM279.52 267.92h1.4v1.4h-1.4zM280.54 290.67h1.4v1.4h-1.4zM281.57 289.07h1.4v1.4h-1.4zM282.59 289.87h1.4v1.4h-1.4zM283.61 294.17h1.4v1.4h-1.4zM284.63 288.1h1.4v1.4h-1.4zM285.65 293.17h1.4v1.4h-1.4zM286.68 285.77h1.4v1.4h-1.4zM287.7 292.87h1.4v1.4h-1.4zM288.72 288.63h1.4v1.4h-1.4zM289.74 288.95h1.4v1.4h-1.4zM290.76 293.46h1.4v1.4h-1.4zM291.79 255.93h1.4v1.4h-1.4zM292.81 298.86h1.4v1.4h-1.4zM293.83 285.55h1.4v1.4h-1.4zM294.85 290.21h1.4v1.4h-1.4zM295.87 286.7h1.4v1.4h-1.4zM296.9 286h1.4v1.4h-1.4zM297.92 279.14h1.4v1.4h-1.4zM298.94 284.22h1.4v1.4h-1.4zM299.96 291.39h1.4v1.4h-1.4zM300.98 291.03h1.4v1.4h-1.4zM302.01 289.57h1.4v1.4h-1.4zM303.03 291.53h1.4v1.4h-1.4zM304.05 289.45h1.4v1.4h-1.4zM305.07 285.09h1.4v1.4h-1.4zM306.09 290.12h1.4v1.4h-1.4zM307.12 283.09h1.4v1.4h-1.4zM308.14 287.65h1.4v1.4h-1.4zM309.16 284.42h1.4v1.4h-1.4zM310.18 287.2h1.4v1.4h-1.4zM311.2 289.15h1.4v1.4h-1.4zM312.23 290.87h1.4v1.4h-1.4zM313.25 287.64h1.4v1.4h-1.4zM314.27 283.9h1.4v1.4h-1.4zM315.29 286.23h1.4v1.4h-1.4zM316.31 289.65h1.4v1.4h-1.4zM317.34 282.55h1.4v1.4h-1.4zM318.36 284.19h1.4v1.4h-1.4zM319.38 285.8h1.4v1.4h-1.4zM320.4 289.48h1.4v1.4h-1.4zM321.42 299.11h1.4v1.4h-1.4zM322.45 288.65h1.4v1.4h-1.4zM323.47 288.26h1.4v1.4h-1.4zM324.49 291.7h1.4v1.4h-1.4zM325.51 283.35h1.4v1.4h-1.4zM326.53 290.69h1.4v1.4h-1.4zM327.56 290.55h1.4v1.4h-1.4zM328.58 290.25h1.4v1.4h-1.4zM329.6 282.27h1.4v1.4h-1.4zM330.62 290.75h1.4v1.4h-1.4zM331.64 288.08h1.4v1.4h-1.4zM332.67 286.56h1.4v1.4h-1.4zM333.69 285.88h1.4v1.4h-1.4zM334.71 290h1.4v1.4h-1.4zM335.73 294.46h1.4v1.4h-1.4zM336.75 287.06h1.4v1.4h-1.4zM337.78 279.95h1.4v1.4h-1.4zM338.8 288.97h1.4v1.4h-1.4zM339.82 294.97h1.4v1.4h-1.4zM340.84 287.05h1.4v1.4h-1.4zM341.86 290.09h1.4v1.4h-1.4zM342.89 290.23h1.4v1.4h-1.4zM343.91 285.47h1.4v1.4h-1.4zM344.93 293.42h1.4v1.4h-1.4zM345.95 281.36h1.4v1.4h-1.4zM346.97 284.87h1.4v1.4h-1.4zM348 288.65h1.4v1.4h-1.4zM349.02 278.88h1.4v1.4h-1.4zM350.04 292.83h1.4v1.4h-1.4zM351.06 295.58h1.4v1.4h-1.4zM352.08 281.76h1.4v1.4h-1.4zM353.11 288.94h1.4v1.4h-1.4zM354.13 292.28h1.4v1.4h-1.4zM355.15 293.14h1.4v1.4h-1.4zM356.17 295.14h1.4v1.4h-1.4zM357.19 288.95h1.4v1.4h-1.4zM358.22 289.88h1.4v1.4h-1.4zM359.24 288.94h1.4v1.4h-1.4zM360.26 289.38h1.4v1.4h-1.4zM361.28 283.37h1.4v1.4h-1.4zM362.3 291.72h1.4v1.4h-1.4zM363.33 290.18h1.4v1.4h-1.4zM364.35 290.71h1.4v1.4h-1.4zM365.37 294.97h1.4v1.4h-1.4zM366.39 289.45h1.4v1.4h-1.4zM367.41 291.02h1.4v1.4h-1.4zM368.44 288.55h1.4v1.4h-1.4zM369.46 289.71h1.4v1.4h-1.4zM370.48 293.22h1.4v1.4h-1.4zM371.5 288.41h1.4v1.4h-1.4zM372.52 284.98h1.4v1.4h-1.4zM373.55 290.5h1.4v1.4h-1.4zM374.57 292.76h1.4v1.4h-1.4zM375.59 291.09h1.4v1.4h-1.4zM376.61 285.09h1.4v1.4h-1.4zM377.63 287.33h1.4v1.4h-1.4zM378.66 287.11h1.4v1.4h-1.4zM379.68 289.42h1.4v1.4h-1.4zM380.7 290.06h1.4v1.4h-1.4z" fill="#1e1e1e"/>
<path d="M228.12 289.7H382.4" stroke="#d8412f" stroke-width="1.3" stroke-dasharray="2.2 0.6"/>
<path d="M223.4 325.5V178H386.1M223.4 325.5H386.1" fill="none" stroke="#474747" stroke-width="1"/>
<path d="M386.1 177.5V326" fill="none" stroke="#474747" stroke-width="1.0"/>
<path d="M239.67 178v1.5M386.1 192.75h-1.6M255.94 178v1.5M386.1 207.5h-1.6M272.21 178v1.5M386.1 222.25h-1.6M288.48 178v1.5M386.1 237h-1.6M304.75 178v1.5M386.1 251.75h-1.6M321.02 178v1.5M386.1 266.5h-1.6M337.29 178v1.5M386.1 281.25h-1.6M353.56 178v1.5M386.1 296h-1.6M369.83 178v1.5M386.1 310.75h-1.6" stroke="#383838" stroke-width="0.9" fill="none"/>
<path d="M223.4 178h-2.9M223.4 202.55h-2.9M223.4 227.1h-2.9M223.4 251.65h-2.9M223.4 276.2h-2.9M223.4 300.75h-2.9M223.4 325.3h-2.9M223.4 190.28h-1.6M223.4 214.83h-1.6M223.4 239.38h-1.6M223.4 263.93h-1.6M223.4 288.48h-1.6M223.4 313.03h-1.6" stroke="#333" stroke-width="1" fill="none"/>
<path d="M228.1 325.5v2.9M258.76 325.5v2.9M289.42 325.5v2.9M320.08 325.5v2.9M350.74 325.5v2.9M381.4 325.5v2.9M243.43 325.5v1.6M274.09 325.5v1.6M304.75 325.5v1.6M335.41 325.5v1.6M366.07 325.5v1.6" stroke="#333" stroke-width="1" fill="none"/>
<text x="218.7" y="179.74" font-size="4.83" textLength="8.95" lengthAdjust="spacingAndGlyphs" text-anchor="end" stroke="#161616" stroke-width="0.15" font-weight="bold" fill="#161616">0.05</text>
<text x="218.7" y="204.29" font-size="4.83" textLength="8.95" lengthAdjust="spacingAndGlyphs" text-anchor="end" stroke="#161616" stroke-width="0.15" font-weight="bold" fill="#161616">0.00</text>
<text x="218.7" y="228.84" font-size="4.83" textLength="10.48" lengthAdjust="spacingAndGlyphs" text-anchor="end" stroke="#161616" stroke-width="0.15" font-weight="bold" fill="#161616">-0.05</text>
<text x="218.7" y="253.39" font-size="4.83" textLength="10.48" lengthAdjust="spacingAndGlyphs" text-anchor="end" stroke="#161616" stroke-width="0.15" font-weight="bold" fill="#161616">-0.10</text>
<text x="218.7" y="277.94" font-size="4.83" textLength="10.48" lengthAdjust="spacingAndGlyphs" text-anchor="end" stroke="#161616" stroke-width="0.15" font-weight="bold" fill="#161616">-0.15</text>
<text x="218.7" y="302.49" font-size="4.83" textLength="10.48" lengthAdjust="spacingAndGlyphs" text-anchor="end" stroke="#161616" stroke-width="0.15" font-weight="bold" fill="#161616">-0.20</text>
<text x="218.7" y="327.04" font-size="4.83" textLength="10.48" lengthAdjust="spacingAndGlyphs" text-anchor="end" stroke="#161616" stroke-width="0.15" font-weight="bold" fill="#161616">-0.25</text>
<text x="228.1" y="334.62" font-size="5.06" textLength="2.56" lengthAdjust="spacingAndGlyphs" text-anchor="middle" stroke="#161616" stroke-width="0.15" font-weight="bold" fill="#161616">0</text>
<text x="258.76" y="334.62" font-size="5.06" textLength="5.12" lengthAdjust="spacingAndGlyphs" text-anchor="middle" stroke="#161616" stroke-width="0.15" font-weight="bold" fill="#161616">30</text>
<text x="289.42" y="334.62" font-size="5.06" textLength="5.12" lengthAdjust="spacingAndGlyphs" text-anchor="middle" stroke="#161616" stroke-width="0.15" font-weight="bold" fill="#161616">60</text>
<text x="320.08" y="334.62" font-size="5.06" textLength="5.12" lengthAdjust="spacingAndGlyphs" text-anchor="middle" stroke="#161616" stroke-width="0.15" font-weight="bold" fill="#161616">90</text>
<text x="350.74" y="334.62" font-size="5.06" textLength="7.67" lengthAdjust="spacingAndGlyphs" text-anchor="middle" stroke="#161616" stroke-width="0.15" font-weight="bold" fill="#161616">120</text>
<text x="381.4" y="334.62" font-size="5.06" textLength="7.67" lengthAdjust="spacingAndGlyphs" text-anchor="middle" stroke="#161616" stroke-width="0.15" font-weight="bold" fill="#161616">150</text>
<text x="225" y="186.1" font-size="7.2" textLength="8.1" lengthAdjust="spacingAndGlyphs" font-weight="normal" fill="#161616">(d)</text>
<text x="266" y="344.6" font-size="6.88" textLength="78" lengthAdjust="spacingAndGlyphs" stroke="#161616" stroke-width="0.05" font-weight="bold" fill="#161616">Spectrums Measured (150)</text>
<text transform="translate(205.6 277.1) rotate(-90)" x="0" y="0" font-size="6.3" textLength="52.9" lengthAdjust="spacingAndGlyphs" font-weight="bold" fill="#161616" stroke="#161616" stroke-width="0.25">SO<tspan font-size="4.28" dy="1.39">2</tspan><tspan dy="-1.39"> conc. (a.u.)</tspan></text>
<rect x="288.6" y="180.5" width="95.8" height="21.3" fill="#fff" stroke="#cfcfcf" stroke-width="0.7"/>
<path d="M289.4 202.35H384.95V181.3" stroke="#dedede" stroke-width="0.9" fill="none"/>
<text x="305.1" y="188.4" font-size="6.81" textLength="77.9" lengthAdjust="spacingAndGlyphs" font-weight="bold" fill="#161616">SO<tspan font-size="4.63" dy="1.5">2</tspan><tspan dy="-1.5"> Conc. at 618, 628, 638 nm</tspan></text>
<text x="305.1" y="198.2" font-size="6.81" textLength="70.2" lengthAdjust="spacingAndGlyphs" font-weight="bold" fill="#161616">Average level of SO<tspan font-size="4.63" dy="1.5">2</tspan><tspan dy="-1.5"> Conc.</tspan></text>
</svg></body></html>
